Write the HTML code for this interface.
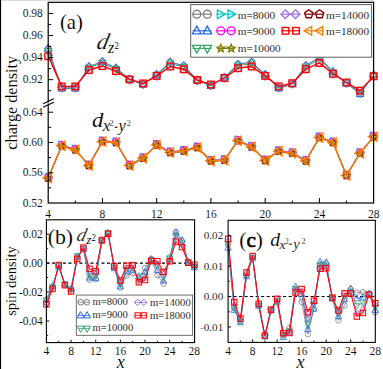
<!DOCTYPE html><html><head><meta charset="utf-8"><style>html,body{margin:0;padding:0;background:#fff;width:383px;height:369px;overflow:hidden;position:relative}</style></head><body><svg width="383" height="369" viewBox="0 0 383 369" style="position:absolute;left:0;top:0" font-family="'Liberation Serif', serif"><style>text{stroke:#fff;stroke-width:0.1px}</style>
<rect x="0" y="0" width="383" height="369" fill="#fff"/>
<rect x="0" y="0" width="1.1" height="369" fill="#000"/>
<rect x="2" y="0" width="372" height="1" fill="#dedede"/>
<polyline points="48.20,48.80 61.76,88.53 75.32,88.53 88.88,66.88 102.44,61.73 116.00,68.33 129.56,79.29 143.12,84.57 156.68,74.67 170.24,62.26 183.80,65.96 197.36,80.21 210.92,86.02 224.48,77.44 238.04,64.50 251.60,62.26 265.16,74.67 278.72,88.40 292.28,84.30 305.84,65.82 319.40,57.64 332.96,71.90 346.52,83.38 360.08,94.07 373.64,75.20" fill="none" stroke="#808080" stroke-width="0.8" stroke-linejoin="round"/>
<circle cx="48.20" cy="48.80" r="3.30" fill="none" stroke="#808080" stroke-width="0.9"/>
<circle cx="61.76" cy="88.53" r="3.30" fill="none" stroke="#808080" stroke-width="0.9"/>
<circle cx="75.32" cy="88.53" r="3.30" fill="none" stroke="#808080" stroke-width="0.9"/>
<circle cx="88.88" cy="66.88" r="3.30" fill="none" stroke="#808080" stroke-width="0.9"/>
<circle cx="102.44" cy="61.73" r="3.30" fill="none" stroke="#808080" stroke-width="0.9"/>
<circle cx="116.00" cy="68.33" r="3.30" fill="none" stroke="#808080" stroke-width="0.9"/>
<circle cx="129.56" cy="79.29" r="3.30" fill="none" stroke="#808080" stroke-width="0.9"/>
<circle cx="143.12" cy="84.57" r="3.30" fill="none" stroke="#808080" stroke-width="0.9"/>
<circle cx="156.68" cy="74.67" r="3.30" fill="none" stroke="#808080" stroke-width="0.9"/>
<circle cx="170.24" cy="62.26" r="3.30" fill="none" stroke="#808080" stroke-width="0.9"/>
<circle cx="183.80" cy="65.96" r="3.30" fill="none" stroke="#808080" stroke-width="0.9"/>
<circle cx="197.36" cy="80.21" r="3.30" fill="none" stroke="#808080" stroke-width="0.9"/>
<circle cx="210.92" cy="86.02" r="3.30" fill="none" stroke="#808080" stroke-width="0.9"/>
<circle cx="224.48" cy="77.44" r="3.30" fill="none" stroke="#808080" stroke-width="0.9"/>
<circle cx="238.04" cy="64.50" r="3.30" fill="none" stroke="#808080" stroke-width="0.9"/>
<circle cx="251.60" cy="62.26" r="3.30" fill="none" stroke="#808080" stroke-width="0.9"/>
<circle cx="265.16" cy="74.67" r="3.30" fill="none" stroke="#808080" stroke-width="0.9"/>
<circle cx="278.72" cy="88.40" r="3.30" fill="none" stroke="#808080" stroke-width="0.9"/>
<circle cx="292.28" cy="84.30" r="3.30" fill="none" stroke="#808080" stroke-width="0.9"/>
<circle cx="305.84" cy="65.82" r="3.30" fill="none" stroke="#808080" stroke-width="0.9"/>
<circle cx="319.40" cy="57.64" r="3.30" fill="none" stroke="#808080" stroke-width="0.9"/>
<circle cx="332.96" cy="71.90" r="3.30" fill="none" stroke="#808080" stroke-width="0.9"/>
<circle cx="346.52" cy="83.38" r="3.30" fill="none" stroke="#808080" stroke-width="0.9"/>
<circle cx="360.08" cy="94.07" r="3.30" fill="none" stroke="#808080" stroke-width="0.9"/>
<circle cx="373.64" cy="75.20" r="3.30" fill="none" stroke="#808080" stroke-width="0.9"/>
<polyline points="48.20,48.50 61.76,88.23 75.32,88.23 88.88,66.58 102.44,61.43 116.00,68.03 129.56,78.99 143.12,84.27 156.68,74.37 170.24,61.96 183.80,65.66 197.36,79.91 210.92,85.72 224.48,77.14 238.04,64.20 251.60,61.96 265.16,74.37 278.72,88.10 292.28,84.00 305.84,65.52 319.40,57.34 332.96,71.60 346.52,83.08 360.08,93.77 373.64,74.90" fill="none" stroke="#2a6ae8" stroke-width="0.8" stroke-linejoin="round"/>
<polygon points="48.20,44.24 44.32,51.27 52.09,51.27" fill="none" stroke="#2a6ae8" stroke-width="1.0" stroke-linejoin="miter"/>
<polygon points="61.76,83.97 57.88,91.00 65.65,91.00" fill="none" stroke="#2a6ae8" stroke-width="1.0" stroke-linejoin="miter"/>
<polygon points="75.32,83.97 71.44,91.00 79.21,91.00" fill="none" stroke="#2a6ae8" stroke-width="1.0" stroke-linejoin="miter"/>
<polygon points="88.88,62.32 84.99,69.36 92.77,69.36" fill="none" stroke="#2a6ae8" stroke-width="1.0" stroke-linejoin="miter"/>
<polygon points="102.44,57.18 98.55,64.21 106.33,64.21" fill="none" stroke="#2a6ae8" stroke-width="1.0" stroke-linejoin="miter"/>
<polygon points="116.00,63.78 112.11,70.81 119.89,70.81" fill="none" stroke="#2a6ae8" stroke-width="1.0" stroke-linejoin="miter"/>
<polygon points="129.56,74.73 125.67,81.76 133.44,81.76" fill="none" stroke="#2a6ae8" stroke-width="1.0" stroke-linejoin="miter"/>
<polygon points="143.12,80.01 139.24,87.04 147.00,87.04" fill="none" stroke="#2a6ae8" stroke-width="1.0" stroke-linejoin="miter"/>
<polygon points="156.68,70.11 152.80,77.14 160.56,77.14" fill="none" stroke="#2a6ae8" stroke-width="1.0" stroke-linejoin="miter"/>
<polygon points="170.24,57.70 166.36,64.73 174.12,64.73" fill="none" stroke="#2a6ae8" stroke-width="1.0" stroke-linejoin="miter"/>
<polygon points="183.80,61.40 179.92,68.43 187.69,68.43" fill="none" stroke="#2a6ae8" stroke-width="1.0" stroke-linejoin="miter"/>
<polygon points="197.36,75.66 193.48,82.69 201.25,82.69" fill="none" stroke="#2a6ae8" stroke-width="1.0" stroke-linejoin="miter"/>
<polygon points="210.92,81.47 207.04,88.50 214.81,88.50" fill="none" stroke="#2a6ae8" stroke-width="1.0" stroke-linejoin="miter"/>
<polygon points="224.48,72.89 220.60,79.92 228.37,79.92" fill="none" stroke="#2a6ae8" stroke-width="1.0" stroke-linejoin="miter"/>
<polygon points="238.04,59.95 234.16,66.98 241.93,66.98" fill="none" stroke="#2a6ae8" stroke-width="1.0" stroke-linejoin="miter"/>
<polygon points="251.60,57.70 247.72,64.73 255.49,64.73" fill="none" stroke="#2a6ae8" stroke-width="1.0" stroke-linejoin="miter"/>
<polygon points="265.16,70.11 261.28,77.14 269.05,77.14" fill="none" stroke="#2a6ae8" stroke-width="1.0" stroke-linejoin="miter"/>
<polygon points="278.72,83.84 274.84,90.87 282.61,90.87" fill="none" stroke="#2a6ae8" stroke-width="1.0" stroke-linejoin="miter"/>
<polygon points="292.28,79.75 288.40,86.78 296.17,86.78" fill="none" stroke="#2a6ae8" stroke-width="1.0" stroke-linejoin="miter"/>
<polygon points="305.84,61.27 301.95,68.30 309.72,68.30" fill="none" stroke="#2a6ae8" stroke-width="1.0" stroke-linejoin="miter"/>
<polygon points="319.40,53.09 315.51,60.12 323.28,60.12" fill="none" stroke="#2a6ae8" stroke-width="1.0" stroke-linejoin="miter"/>
<polygon points="332.96,67.34 329.07,74.37 336.84,74.37" fill="none" stroke="#2a6ae8" stroke-width="1.0" stroke-linejoin="miter"/>
<polygon points="346.52,78.83 342.63,85.86 350.40,85.86" fill="none" stroke="#2a6ae8" stroke-width="1.0" stroke-linejoin="miter"/>
<polygon points="360.08,89.52 356.19,96.55 363.96,96.55" fill="none" stroke="#2a6ae8" stroke-width="1.0" stroke-linejoin="miter"/>
<polygon points="373.64,70.64 369.75,77.67 377.52,77.67" fill="none" stroke="#2a6ae8" stroke-width="1.0" stroke-linejoin="miter"/>
<polyline points="48.20,51.17 61.76,87.89 75.32,87.89 88.88,67.88 102.44,63.12 116.00,69.22 129.56,79.35 143.12,84.23 156.68,75.08 170.24,63.61 183.80,67.03 197.36,80.20 210.92,85.57 224.48,77.64 238.04,65.68 251.60,63.61 265.16,75.08 278.72,87.77 292.28,83.98 305.84,66.90 319.40,59.34 332.96,72.52 346.52,83.13 360.08,93.01 373.64,75.57" fill="none" stroke="#36a86a" stroke-width="1.0" stroke-linejoin="round"/>
<polygon points="48.20,55.31 44.42,48.47 51.98,48.47" fill="none" stroke="#36a86a" stroke-width="1.0" stroke-linejoin="miter"/>
<polygon points="61.76,92.03 57.98,85.19 65.54,85.19" fill="none" stroke="#36a86a" stroke-width="1.0" stroke-linejoin="miter"/>
<polygon points="75.32,92.03 71.54,85.19 79.10,85.19" fill="none" stroke="#36a86a" stroke-width="1.0" stroke-linejoin="miter"/>
<polygon points="88.88,72.02 85.10,65.18 92.66,65.18" fill="none" stroke="#36a86a" stroke-width="1.0" stroke-linejoin="miter"/>
<polygon points="102.44,67.26 98.66,60.42 106.22,60.42" fill="none" stroke="#36a86a" stroke-width="1.0" stroke-linejoin="miter"/>
<polygon points="116.00,73.36 112.22,66.52 119.78,66.52" fill="none" stroke="#36a86a" stroke-width="1.0" stroke-linejoin="miter"/>
<polygon points="129.56,83.49 125.78,76.65 133.34,76.65" fill="none" stroke="#36a86a" stroke-width="1.0" stroke-linejoin="miter"/>
<polygon points="143.12,88.37 139.34,81.53 146.90,81.53" fill="none" stroke="#36a86a" stroke-width="1.0" stroke-linejoin="miter"/>
<polygon points="156.68,79.22 152.90,72.38 160.46,72.38" fill="none" stroke="#36a86a" stroke-width="1.0" stroke-linejoin="miter"/>
<polygon points="170.24,67.75 166.46,60.91 174.02,60.91" fill="none" stroke="#36a86a" stroke-width="1.0" stroke-linejoin="miter"/>
<polygon points="183.80,71.17 180.02,64.33 187.58,64.33" fill="none" stroke="#36a86a" stroke-width="1.0" stroke-linejoin="miter"/>
<polygon points="197.36,84.34 193.58,77.50 201.14,77.50" fill="none" stroke="#36a86a" stroke-width="1.0" stroke-linejoin="miter"/>
<polygon points="210.92,89.71 207.14,82.87 214.70,82.87" fill="none" stroke="#36a86a" stroke-width="1.0" stroke-linejoin="miter"/>
<polygon points="224.48,81.78 220.70,74.94 228.26,74.94" fill="none" stroke="#36a86a" stroke-width="1.0" stroke-linejoin="miter"/>
<polygon points="238.04,69.82 234.26,62.98 241.82,62.98" fill="none" stroke="#36a86a" stroke-width="1.0" stroke-linejoin="miter"/>
<polygon points="251.60,67.75 247.82,60.91 255.38,60.91" fill="none" stroke="#36a86a" stroke-width="1.0" stroke-linejoin="miter"/>
<polygon points="265.16,79.22 261.38,72.38 268.94,72.38" fill="none" stroke="#36a86a" stroke-width="1.0" stroke-linejoin="miter"/>
<polygon points="278.72,91.91 274.94,85.07 282.50,85.07" fill="none" stroke="#36a86a" stroke-width="1.0" stroke-linejoin="miter"/>
<polygon points="292.28,88.12 288.50,81.28 296.06,81.28" fill="none" stroke="#36a86a" stroke-width="1.0" stroke-linejoin="miter"/>
<polygon points="305.84,71.04 302.06,64.20 309.62,64.20" fill="none" stroke="#36a86a" stroke-width="1.0" stroke-linejoin="miter"/>
<polygon points="319.40,63.48 315.62,56.64 323.18,56.64" fill="none" stroke="#36a86a" stroke-width="1.0" stroke-linejoin="miter"/>
<polygon points="332.96,76.66 329.18,69.82 336.74,69.82" fill="none" stroke="#36a86a" stroke-width="1.0" stroke-linejoin="miter"/>
<polygon points="346.52,87.27 342.74,80.43 350.30,80.43" fill="none" stroke="#36a86a" stroke-width="1.0" stroke-linejoin="miter"/>
<polygon points="360.08,97.15 356.30,90.31 363.86,90.31" fill="none" stroke="#36a86a" stroke-width="1.0" stroke-linejoin="miter"/>
<polygon points="373.64,79.71 369.86,72.87 377.42,72.87" fill="none" stroke="#36a86a" stroke-width="1.0" stroke-linejoin="miter"/>
<polyline points="48.20,55.42 61.76,87.32 75.32,87.32 88.88,69.94 102.44,65.81 116.00,71.11 129.56,79.90 143.12,84.14 156.68,76.19 170.24,66.23 183.80,69.20 197.36,80.65 210.92,85.31 224.48,78.42 238.04,68.03 251.60,66.23 265.16,76.19 278.72,87.22 292.28,83.93 305.84,69.09 319.40,62.52 332.96,73.97 346.52,83.19 360.08,91.78 373.64,76.62" fill="none" stroke="#a070e8" stroke-width="0.8" stroke-linejoin="round"/>
<polygon points="48.20,51.05 52.57,55.42 48.20,59.79 43.83,55.42" fill="none" stroke="#a070e8" stroke-width="1.0" stroke-linejoin="miter"/>
<polygon points="61.76,82.95 66.13,87.32 61.76,91.69 57.39,87.32" fill="none" stroke="#a070e8" stroke-width="1.0" stroke-linejoin="miter"/>
<polygon points="75.32,82.95 79.69,87.32 75.32,91.69 70.95,87.32" fill="none" stroke="#a070e8" stroke-width="1.0" stroke-linejoin="miter"/>
<polygon points="88.88,65.57 93.25,69.94 88.88,74.31 84.51,69.94" fill="none" stroke="#a070e8" stroke-width="1.0" stroke-linejoin="miter"/>
<polygon points="102.44,61.44 106.81,65.81 102.44,70.18 98.07,65.81" fill="none" stroke="#a070e8" stroke-width="1.0" stroke-linejoin="miter"/>
<polygon points="116.00,66.74 120.37,71.11 116.00,75.48 111.63,71.11" fill="none" stroke="#a070e8" stroke-width="1.0" stroke-linejoin="miter"/>
<polygon points="129.56,75.53 133.93,79.90 129.56,84.27 125.19,79.90" fill="none" stroke="#a070e8" stroke-width="1.0" stroke-linejoin="miter"/>
<polygon points="143.12,79.77 147.49,84.14 143.12,88.51 138.75,84.14" fill="none" stroke="#a070e8" stroke-width="1.0" stroke-linejoin="miter"/>
<polygon points="156.68,71.82 161.05,76.19 156.68,80.56 152.31,76.19" fill="none" stroke="#a070e8" stroke-width="1.0" stroke-linejoin="miter"/>
<polygon points="170.24,61.86 174.61,66.23 170.24,70.60 165.87,66.23" fill="none" stroke="#a070e8" stroke-width="1.0" stroke-linejoin="miter"/>
<polygon points="183.80,64.83 188.17,69.20 183.80,73.57 179.43,69.20" fill="none" stroke="#a070e8" stroke-width="1.0" stroke-linejoin="miter"/>
<polygon points="197.36,76.28 201.73,80.65 197.36,85.02 192.99,80.65" fill="none" stroke="#a070e8" stroke-width="1.0" stroke-linejoin="miter"/>
<polygon points="210.92,80.94 215.29,85.31 210.92,89.68 206.55,85.31" fill="none" stroke="#a070e8" stroke-width="1.0" stroke-linejoin="miter"/>
<polygon points="224.48,74.05 228.85,78.42 224.48,82.79 220.11,78.42" fill="none" stroke="#a070e8" stroke-width="1.0" stroke-linejoin="miter"/>
<polygon points="238.04,63.66 242.41,68.03 238.04,72.40 233.67,68.03" fill="none" stroke="#a070e8" stroke-width="1.0" stroke-linejoin="miter"/>
<polygon points="251.60,61.86 255.97,66.23 251.60,70.60 247.23,66.23" fill="none" stroke="#a070e8" stroke-width="1.0" stroke-linejoin="miter"/>
<polygon points="265.16,71.82 269.53,76.19 265.16,80.56 260.79,76.19" fill="none" stroke="#a070e8" stroke-width="1.0" stroke-linejoin="miter"/>
<polygon points="278.72,82.85 283.09,87.22 278.72,91.59 274.35,87.22" fill="none" stroke="#a070e8" stroke-width="1.0" stroke-linejoin="miter"/>
<polygon points="292.28,79.56 296.65,83.93 292.28,88.30 287.91,83.93" fill="none" stroke="#a070e8" stroke-width="1.0" stroke-linejoin="miter"/>
<polygon points="305.84,64.72 310.21,69.09 305.84,73.46 301.47,69.09" fill="none" stroke="#a070e8" stroke-width="1.0" stroke-linejoin="miter"/>
<polygon points="319.40,58.15 323.77,62.52 319.40,66.89 315.03,62.52" fill="none" stroke="#a070e8" stroke-width="1.0" stroke-linejoin="miter"/>
<polygon points="332.96,69.60 337.33,73.97 332.96,78.34 328.59,73.97" fill="none" stroke="#a070e8" stroke-width="1.0" stroke-linejoin="miter"/>
<polygon points="346.52,78.82 350.89,83.19 346.52,87.56 342.15,83.19" fill="none" stroke="#a070e8" stroke-width="1.0" stroke-linejoin="miter"/>
<polygon points="360.08,87.41 364.45,91.78 360.08,96.15 355.71,91.78" fill="none" stroke="#a070e8" stroke-width="1.0" stroke-linejoin="miter"/>
<polygon points="373.64,72.25 378.01,76.62 373.64,80.99 369.27,76.62" fill="none" stroke="#a070e8" stroke-width="1.0" stroke-linejoin="miter"/>
<polyline points="48.20,56.30 61.76,86.40 75.32,86.40 88.88,70.00 102.44,66.10 116.00,71.10 129.56,79.40 143.12,83.40 156.68,75.90 170.24,66.50 183.80,69.30 197.36,80.10 210.92,84.50 224.48,78.00 238.04,68.20 251.60,66.50 265.16,75.90 278.72,86.30 292.28,83.20 305.84,69.20 319.40,63.00 332.96,73.80 346.52,82.50 360.08,90.60 373.64,76.30" fill="none" stroke="#ff0000" stroke-width="1.35" stroke-linejoin="round"/>
<rect x="44.90" y="53.00" width="6.60" height="6.60" fill="none" stroke="#ff0000" stroke-width="1.3"/>
<rect x="58.46" y="83.10" width="6.60" height="6.60" fill="none" stroke="#ff0000" stroke-width="1.3"/>
<rect x="72.02" y="83.10" width="6.60" height="6.60" fill="none" stroke="#ff0000" stroke-width="1.3"/>
<rect x="85.58" y="66.70" width="6.60" height="6.60" fill="none" stroke="#ff0000" stroke-width="1.3"/>
<rect x="99.14" y="62.80" width="6.60" height="6.60" fill="none" stroke="#ff0000" stroke-width="1.3"/>
<rect x="112.70" y="67.80" width="6.60" height="6.60" fill="none" stroke="#ff0000" stroke-width="1.3"/>
<rect x="126.26" y="76.10" width="6.60" height="6.60" fill="none" stroke="#ff0000" stroke-width="1.3"/>
<rect x="139.82" y="80.10" width="6.60" height="6.60" fill="none" stroke="#ff0000" stroke-width="1.3"/>
<rect x="153.38" y="72.60" width="6.60" height="6.60" fill="none" stroke="#ff0000" stroke-width="1.3"/>
<rect x="166.94" y="63.20" width="6.60" height="6.60" fill="none" stroke="#ff0000" stroke-width="1.3"/>
<rect x="180.50" y="66.00" width="6.60" height="6.60" fill="none" stroke="#ff0000" stroke-width="1.3"/>
<rect x="194.06" y="76.80" width="6.60" height="6.60" fill="none" stroke="#ff0000" stroke-width="1.3"/>
<rect x="207.62" y="81.20" width="6.60" height="6.60" fill="none" stroke="#ff0000" stroke-width="1.3"/>
<rect x="221.18" y="74.70" width="6.60" height="6.60" fill="none" stroke="#ff0000" stroke-width="1.3"/>
<rect x="234.74" y="64.90" width="6.60" height="6.60" fill="none" stroke="#ff0000" stroke-width="1.3"/>
<rect x="248.30" y="63.20" width="6.60" height="6.60" fill="none" stroke="#ff0000" stroke-width="1.3"/>
<rect x="261.86" y="72.60" width="6.60" height="6.60" fill="none" stroke="#ff0000" stroke-width="1.3"/>
<rect x="275.42" y="83.00" width="6.60" height="6.60" fill="none" stroke="#ff0000" stroke-width="1.3"/>
<rect x="288.98" y="79.90" width="6.60" height="6.60" fill="none" stroke="#ff0000" stroke-width="1.3"/>
<rect x="302.54" y="65.90" width="6.60" height="6.60" fill="none" stroke="#ff0000" stroke-width="1.3"/>
<rect x="316.10" y="59.70" width="6.60" height="6.60" fill="none" stroke="#ff0000" stroke-width="1.3"/>
<rect x="329.66" y="70.50" width="6.60" height="6.60" fill="none" stroke="#ff0000" stroke-width="1.3"/>
<rect x="343.22" y="79.20" width="6.60" height="6.60" fill="none" stroke="#ff0000" stroke-width="1.3"/>
<rect x="356.78" y="87.30" width="6.60" height="6.60" fill="none" stroke="#ff0000" stroke-width="1.3"/>
<rect x="370.34" y="73.00" width="6.60" height="6.60" fill="none" stroke="#ff0000" stroke-width="1.3"/>
<polyline points="48.20,177.20 61.76,144.90 75.32,149.00 88.88,164.70 102.44,140.70 116.00,141.70 129.56,164.70 143.12,157.40 156.68,144.20 170.24,151.70 183.80,150.20 197.36,146.70 210.92,160.10 224.48,159.30 238.04,139.90 251.60,146.10 265.16,159.70 278.72,150.30 292.28,152.40 305.84,160.10 319.40,136.70 332.96,141.70 346.52,174.70 360.08,152.40 373.64,136.00" fill="none" stroke="#00c8c8" stroke-width="0.8" stroke-linejoin="round"/>
<polygon points="52.80,177.20 45.20,173.00 45.20,181.40" fill="none" stroke="#00c8c8" stroke-width="1.0" stroke-linejoin="miter"/>
<polygon points="66.36,144.90 58.76,140.70 58.76,149.10" fill="none" stroke="#00c8c8" stroke-width="1.0" stroke-linejoin="miter"/>
<polygon points="79.92,149.00 72.32,144.80 72.32,153.20" fill="none" stroke="#00c8c8" stroke-width="1.0" stroke-linejoin="miter"/>
<polygon points="93.48,164.70 85.88,160.50 85.88,168.90" fill="none" stroke="#00c8c8" stroke-width="1.0" stroke-linejoin="miter"/>
<polygon points="107.04,140.70 99.44,136.50 99.44,144.90" fill="none" stroke="#00c8c8" stroke-width="1.0" stroke-linejoin="miter"/>
<polygon points="120.60,141.70 113.00,137.50 113.00,145.90" fill="none" stroke="#00c8c8" stroke-width="1.0" stroke-linejoin="miter"/>
<polygon points="134.16,164.70 126.56,160.50 126.56,168.90" fill="none" stroke="#00c8c8" stroke-width="1.0" stroke-linejoin="miter"/>
<polygon points="147.72,157.40 140.12,153.20 140.12,161.60" fill="none" stroke="#00c8c8" stroke-width="1.0" stroke-linejoin="miter"/>
<polygon points="161.28,144.20 153.68,140.00 153.68,148.40" fill="none" stroke="#00c8c8" stroke-width="1.0" stroke-linejoin="miter"/>
<polygon points="174.84,151.70 167.24,147.50 167.24,155.90" fill="none" stroke="#00c8c8" stroke-width="1.0" stroke-linejoin="miter"/>
<polygon points="188.40,150.20 180.80,146.00 180.80,154.40" fill="none" stroke="#00c8c8" stroke-width="1.0" stroke-linejoin="miter"/>
<polygon points="201.96,146.70 194.36,142.50 194.36,150.90" fill="none" stroke="#00c8c8" stroke-width="1.0" stroke-linejoin="miter"/>
<polygon points="215.52,160.10 207.92,155.90 207.92,164.30" fill="none" stroke="#00c8c8" stroke-width="1.0" stroke-linejoin="miter"/>
<polygon points="229.08,159.30 221.48,155.10 221.48,163.50" fill="none" stroke="#00c8c8" stroke-width="1.0" stroke-linejoin="miter"/>
<polygon points="242.64,139.90 235.04,135.70 235.04,144.10" fill="none" stroke="#00c8c8" stroke-width="1.0" stroke-linejoin="miter"/>
<polygon points="256.20,146.10 248.60,141.90 248.60,150.30" fill="none" stroke="#00c8c8" stroke-width="1.0" stroke-linejoin="miter"/>
<polygon points="269.76,159.70 262.16,155.50 262.16,163.90" fill="none" stroke="#00c8c8" stroke-width="1.0" stroke-linejoin="miter"/>
<polygon points="283.32,150.30 275.72,146.10 275.72,154.50" fill="none" stroke="#00c8c8" stroke-width="1.0" stroke-linejoin="miter"/>
<polygon points="296.88,152.40 289.28,148.20 289.28,156.60" fill="none" stroke="#00c8c8" stroke-width="1.0" stroke-linejoin="miter"/>
<polygon points="310.44,160.10 302.84,155.90 302.84,164.30" fill="none" stroke="#00c8c8" stroke-width="1.0" stroke-linejoin="miter"/>
<polygon points="324.00,136.70 316.40,132.50 316.40,140.90" fill="none" stroke="#00c8c8" stroke-width="1.0" stroke-linejoin="miter"/>
<polygon points="337.56,141.70 329.96,137.50 329.96,145.90" fill="none" stroke="#00c8c8" stroke-width="1.0" stroke-linejoin="miter"/>
<polygon points="351.12,174.70 343.52,170.50 343.52,178.90" fill="none" stroke="#00c8c8" stroke-width="1.0" stroke-linejoin="miter"/>
<polygon points="364.68,152.40 357.08,148.20 357.08,156.60" fill="none" stroke="#00c8c8" stroke-width="1.0" stroke-linejoin="miter"/>
<polygon points="378.24,136.00 370.64,131.80 370.64,140.20" fill="none" stroke="#00c8c8" stroke-width="1.0" stroke-linejoin="miter"/>
<polyline points="48.20,177.40 61.76,145.10 75.32,149.20 88.88,164.90 102.44,140.90 116.00,141.90 129.56,164.90 143.12,157.60 156.68,144.40 170.24,151.90 183.80,150.40 197.36,146.90 210.92,160.30 224.48,159.50 238.04,140.10 251.60,146.30 265.16,159.90 278.72,150.50 292.28,152.60 305.84,160.30 319.40,136.90 332.96,141.90 346.52,174.90 360.08,152.60 373.64,136.20" fill="none" stroke="#ff00ff" stroke-width="0.8" stroke-linejoin="round"/>
<circle cx="48.20" cy="177.40" r="3.80" fill="none" stroke="#ff00ff" stroke-width="1.1"/>
<circle cx="61.76" cy="145.10" r="3.80" fill="none" stroke="#ff00ff" stroke-width="1.1"/>
<circle cx="75.32" cy="149.20" r="3.80" fill="none" stroke="#ff00ff" stroke-width="1.1"/>
<circle cx="88.88" cy="164.90" r="3.80" fill="none" stroke="#ff00ff" stroke-width="1.1"/>
<circle cx="102.44" cy="140.90" r="3.80" fill="none" stroke="#ff00ff" stroke-width="1.1"/>
<circle cx="116.00" cy="141.90" r="3.80" fill="none" stroke="#ff00ff" stroke-width="1.1"/>
<circle cx="129.56" cy="164.90" r="3.80" fill="none" stroke="#ff00ff" stroke-width="1.1"/>
<circle cx="143.12" cy="157.60" r="3.80" fill="none" stroke="#ff00ff" stroke-width="1.1"/>
<circle cx="156.68" cy="144.40" r="3.80" fill="none" stroke="#ff00ff" stroke-width="1.1"/>
<circle cx="170.24" cy="151.90" r="3.80" fill="none" stroke="#ff00ff" stroke-width="1.1"/>
<circle cx="183.80" cy="150.40" r="3.80" fill="none" stroke="#ff00ff" stroke-width="1.1"/>
<circle cx="197.36" cy="146.90" r="3.80" fill="none" stroke="#ff00ff" stroke-width="1.1"/>
<circle cx="210.92" cy="160.30" r="3.80" fill="none" stroke="#ff00ff" stroke-width="1.1"/>
<circle cx="224.48" cy="159.50" r="3.80" fill="none" stroke="#ff00ff" stroke-width="1.1"/>
<circle cx="238.04" cy="140.10" r="3.80" fill="none" stroke="#ff00ff" stroke-width="1.1"/>
<circle cx="251.60" cy="146.30" r="3.80" fill="none" stroke="#ff00ff" stroke-width="1.1"/>
<circle cx="265.16" cy="159.90" r="3.80" fill="none" stroke="#ff00ff" stroke-width="1.1"/>
<circle cx="278.72" cy="150.50" r="3.80" fill="none" stroke="#ff00ff" stroke-width="1.1"/>
<circle cx="292.28" cy="152.60" r="3.80" fill="none" stroke="#ff00ff" stroke-width="1.1"/>
<circle cx="305.84" cy="160.30" r="3.80" fill="none" stroke="#ff00ff" stroke-width="1.1"/>
<circle cx="319.40" cy="136.90" r="3.80" fill="none" stroke="#ff00ff" stroke-width="1.1"/>
<circle cx="332.96" cy="141.90" r="3.80" fill="none" stroke="#ff00ff" stroke-width="1.1"/>
<circle cx="346.52" cy="174.90" r="3.80" fill="none" stroke="#ff00ff" stroke-width="1.1"/>
<circle cx="360.08" cy="152.60" r="3.80" fill="none" stroke="#ff00ff" stroke-width="1.1"/>
<circle cx="373.64" cy="136.20" r="3.80" fill="none" stroke="#ff00ff" stroke-width="1.1"/>
<polyline points="48.20,178.20 61.76,145.90 75.32,150.00 88.88,165.70 102.44,141.70 116.00,142.70 129.56,165.70 143.12,158.40 156.68,145.20 170.24,152.70 183.80,151.20 197.36,147.70 210.92,161.10 224.48,160.30 238.04,140.90 251.60,147.10 265.16,160.70 278.72,151.30 292.28,153.40 305.84,161.10 319.40,137.70 332.96,142.70 346.52,175.70 360.08,153.40 373.64,137.00" fill="none" stroke="#808000" stroke-width="0.8" stroke-linejoin="round"/>
<polygon points="48.20,174.75 49.08,176.99 51.48,177.13 49.63,178.66 50.23,180.99 48.20,179.70 46.17,180.99 46.77,178.66 44.92,177.13 47.32,176.99" fill="none" stroke="#808000" stroke-width="1.2" stroke-linejoin="miter"/>
<polygon points="61.76,142.45 62.64,144.69 65.04,144.83 63.19,146.36 63.79,148.69 61.76,147.40 59.73,148.69 60.33,146.36 58.48,144.83 60.88,144.69" fill="none" stroke="#808000" stroke-width="1.2" stroke-linejoin="miter"/>
<polygon points="75.32,146.55 76.20,148.79 78.60,148.93 76.75,150.46 77.35,152.79 75.32,151.50 73.29,152.79 73.89,150.46 72.04,148.93 74.44,148.79" fill="none" stroke="#808000" stroke-width="1.2" stroke-linejoin="miter"/>
<polygon points="88.88,162.25 89.76,164.49 92.16,164.63 90.31,166.16 90.91,168.49 88.88,167.20 86.85,168.49 87.45,166.16 85.60,164.63 88.00,164.49" fill="none" stroke="#808000" stroke-width="1.2" stroke-linejoin="miter"/>
<polygon points="102.44,138.25 103.32,140.49 105.72,140.63 103.87,142.16 104.47,144.49 102.44,143.20 100.41,144.49 101.01,142.16 99.16,140.63 101.56,140.49" fill="none" stroke="#808000" stroke-width="1.2" stroke-linejoin="miter"/>
<polygon points="116.00,139.25 116.88,141.49 119.28,141.63 117.43,143.16 118.03,145.49 116.00,144.20 113.97,145.49 114.57,143.16 112.72,141.63 115.12,141.49" fill="none" stroke="#808000" stroke-width="1.2" stroke-linejoin="miter"/>
<polygon points="129.56,162.25 130.44,164.49 132.84,164.63 130.99,166.16 131.59,168.49 129.56,167.20 127.53,168.49 128.13,166.16 126.28,164.63 128.68,164.49" fill="none" stroke="#808000" stroke-width="1.2" stroke-linejoin="miter"/>
<polygon points="143.12,154.95 144.00,157.19 146.40,157.33 144.55,158.86 145.15,161.19 143.12,159.90 141.09,161.19 141.69,158.86 139.84,157.33 142.24,157.19" fill="none" stroke="#808000" stroke-width="1.2" stroke-linejoin="miter"/>
<polygon points="156.68,141.75 157.56,143.99 159.96,144.13 158.11,145.66 158.71,147.99 156.68,146.70 154.65,147.99 155.25,145.66 153.40,144.13 155.80,143.99" fill="none" stroke="#808000" stroke-width="1.2" stroke-linejoin="miter"/>
<polygon points="170.24,149.25 171.12,151.49 173.52,151.63 171.67,153.16 172.27,155.49 170.24,154.20 168.21,155.49 168.81,153.16 166.96,151.63 169.36,151.49" fill="none" stroke="#808000" stroke-width="1.2" stroke-linejoin="miter"/>
<polygon points="183.80,147.75 184.68,149.99 187.08,150.13 185.23,151.66 185.83,153.99 183.80,152.70 181.77,153.99 182.37,151.66 180.52,150.13 182.92,149.99" fill="none" stroke="#808000" stroke-width="1.2" stroke-linejoin="miter"/>
<polygon points="197.36,144.25 198.24,146.49 200.64,146.63 198.79,148.16 199.39,150.49 197.36,149.20 195.33,150.49 195.93,148.16 194.08,146.63 196.48,146.49" fill="none" stroke="#808000" stroke-width="1.2" stroke-linejoin="miter"/>
<polygon points="210.92,157.65 211.80,159.89 214.20,160.03 212.35,161.56 212.95,163.89 210.92,162.60 208.89,163.89 209.49,161.56 207.64,160.03 210.04,159.89" fill="none" stroke="#808000" stroke-width="1.2" stroke-linejoin="miter"/>
<polygon points="224.48,156.85 225.36,159.09 227.76,159.23 225.91,160.76 226.51,163.09 224.48,161.80 222.45,163.09 223.05,160.76 221.20,159.23 223.60,159.09" fill="none" stroke="#808000" stroke-width="1.2" stroke-linejoin="miter"/>
<polygon points="238.04,137.45 238.92,139.69 241.32,139.83 239.47,141.36 240.07,143.69 238.04,142.40 236.01,143.69 236.61,141.36 234.76,139.83 237.16,139.69" fill="none" stroke="#808000" stroke-width="1.2" stroke-linejoin="miter"/>
<polygon points="251.60,143.65 252.48,145.89 254.88,146.03 253.03,147.56 253.63,149.89 251.60,148.60 249.57,149.89 250.17,147.56 248.32,146.03 250.72,145.89" fill="none" stroke="#808000" stroke-width="1.2" stroke-linejoin="miter"/>
<polygon points="265.16,157.25 266.04,159.49 268.44,159.63 266.59,161.16 267.19,163.49 265.16,162.20 263.13,163.49 263.73,161.16 261.88,159.63 264.28,159.49" fill="none" stroke="#808000" stroke-width="1.2" stroke-linejoin="miter"/>
<polygon points="278.72,147.85 279.60,150.09 282.00,150.23 280.15,151.76 280.75,154.09 278.72,152.80 276.69,154.09 277.29,151.76 275.44,150.23 277.84,150.09" fill="none" stroke="#808000" stroke-width="1.2" stroke-linejoin="miter"/>
<polygon points="292.28,149.95 293.16,152.19 295.56,152.33 293.71,153.86 294.31,156.19 292.28,154.90 290.25,156.19 290.85,153.86 289.00,152.33 291.40,152.19" fill="none" stroke="#808000" stroke-width="1.2" stroke-linejoin="miter"/>
<polygon points="305.84,157.65 306.72,159.89 309.12,160.03 307.27,161.56 307.87,163.89 305.84,162.60 303.81,163.89 304.41,161.56 302.56,160.03 304.96,159.89" fill="none" stroke="#808000" stroke-width="1.2" stroke-linejoin="miter"/>
<polygon points="319.40,134.25 320.28,136.49 322.68,136.63 320.83,138.16 321.43,140.49 319.40,139.20 317.37,140.49 317.97,138.16 316.12,136.63 318.52,136.49" fill="none" stroke="#808000" stroke-width="1.2" stroke-linejoin="miter"/>
<polygon points="332.96,139.25 333.84,141.49 336.24,141.63 334.39,143.16 334.99,145.49 332.96,144.20 330.93,145.49 331.53,143.16 329.68,141.63 332.08,141.49" fill="none" stroke="#808000" stroke-width="1.2" stroke-linejoin="miter"/>
<polygon points="346.52,172.25 347.40,174.49 349.80,174.63 347.95,176.16 348.55,178.49 346.52,177.20 344.49,178.49 345.09,176.16 343.24,174.63 345.64,174.49" fill="none" stroke="#808000" stroke-width="1.2" stroke-linejoin="miter"/>
<polygon points="360.08,149.95 360.96,152.19 363.36,152.33 361.51,153.86 362.11,156.19 360.08,154.90 358.05,156.19 358.65,153.86 356.80,152.33 359.20,152.19" fill="none" stroke="#808000" stroke-width="1.2" stroke-linejoin="miter"/>
<polygon points="373.64,133.55 374.52,135.79 376.92,135.93 375.07,137.46 375.67,139.79 373.64,138.50 371.61,139.79 372.21,137.46 370.36,135.93 372.76,135.79" fill="none" stroke="#808000" stroke-width="1.2" stroke-linejoin="miter"/>
<polyline points="48.20,178.40 61.76,146.10 75.32,150.20 88.88,165.90 102.44,141.90 116.00,142.90 129.56,165.90 143.12,158.60 156.68,145.40 170.24,152.90 183.80,151.40 197.36,147.90 210.92,161.30 224.48,160.50 238.04,141.10 251.60,147.30 265.16,160.90 278.72,151.50 292.28,153.60 305.84,161.30 319.40,137.90 332.96,142.90 346.52,175.90 360.08,153.60 373.64,137.20" fill="none" stroke="#800000" stroke-width="0.8" stroke-linejoin="round"/>
<polygon points="48.20,175.04 51.40,177.36 50.17,181.12 46.23,181.12 45.00,177.36" fill="none" stroke="#800000" stroke-width="1.1" stroke-linejoin="miter"/>
<polygon points="61.76,142.74 64.96,145.06 63.73,148.82 59.79,148.82 58.56,145.06" fill="none" stroke="#800000" stroke-width="1.1" stroke-linejoin="miter"/>
<polygon points="75.32,146.84 78.52,149.16 77.29,152.92 73.35,152.92 72.12,149.16" fill="none" stroke="#800000" stroke-width="1.1" stroke-linejoin="miter"/>
<polygon points="88.88,162.54 92.08,164.86 90.85,168.62 86.91,168.62 85.68,164.86" fill="none" stroke="#800000" stroke-width="1.1" stroke-linejoin="miter"/>
<polygon points="102.44,138.54 105.64,140.86 104.41,144.62 100.47,144.62 99.24,140.86" fill="none" stroke="#800000" stroke-width="1.1" stroke-linejoin="miter"/>
<polygon points="116.00,139.54 119.20,141.86 117.97,145.62 114.03,145.62 112.80,141.86" fill="none" stroke="#800000" stroke-width="1.1" stroke-linejoin="miter"/>
<polygon points="129.56,162.54 132.76,164.86 131.53,168.62 127.59,168.62 126.36,164.86" fill="none" stroke="#800000" stroke-width="1.1" stroke-linejoin="miter"/>
<polygon points="143.12,155.24 146.32,157.56 145.09,161.32 141.15,161.32 139.92,157.56" fill="none" stroke="#800000" stroke-width="1.1" stroke-linejoin="miter"/>
<polygon points="156.68,142.04 159.88,144.36 158.65,148.12 154.71,148.12 153.48,144.36" fill="none" stroke="#800000" stroke-width="1.1" stroke-linejoin="miter"/>
<polygon points="170.24,149.54 173.44,151.86 172.21,155.62 168.27,155.62 167.04,151.86" fill="none" stroke="#800000" stroke-width="1.1" stroke-linejoin="miter"/>
<polygon points="183.80,148.04 187.00,150.36 185.77,154.12 181.83,154.12 180.60,150.36" fill="none" stroke="#800000" stroke-width="1.1" stroke-linejoin="miter"/>
<polygon points="197.36,144.54 200.56,146.86 199.33,150.62 195.39,150.62 194.16,146.86" fill="none" stroke="#800000" stroke-width="1.1" stroke-linejoin="miter"/>
<polygon points="210.92,157.94 214.12,160.26 212.89,164.02 208.95,164.02 207.72,160.26" fill="none" stroke="#800000" stroke-width="1.1" stroke-linejoin="miter"/>
<polygon points="224.48,157.14 227.68,159.46 226.45,163.22 222.51,163.22 221.28,159.46" fill="none" stroke="#800000" stroke-width="1.1" stroke-linejoin="miter"/>
<polygon points="238.04,137.74 241.24,140.06 240.01,143.82 236.07,143.82 234.84,140.06" fill="none" stroke="#800000" stroke-width="1.1" stroke-linejoin="miter"/>
<polygon points="251.60,143.94 254.80,146.26 253.57,150.02 249.63,150.02 248.40,146.26" fill="none" stroke="#800000" stroke-width="1.1" stroke-linejoin="miter"/>
<polygon points="265.16,157.54 268.36,159.86 267.13,163.62 263.19,163.62 261.96,159.86" fill="none" stroke="#800000" stroke-width="1.1" stroke-linejoin="miter"/>
<polygon points="278.72,148.14 281.92,150.46 280.69,154.22 276.75,154.22 275.52,150.46" fill="none" stroke="#800000" stroke-width="1.1" stroke-linejoin="miter"/>
<polygon points="292.28,150.24 295.48,152.56 294.25,156.32 290.31,156.32 289.08,152.56" fill="none" stroke="#800000" stroke-width="1.1" stroke-linejoin="miter"/>
<polygon points="305.84,157.94 309.04,160.26 307.81,164.02 303.87,164.02 302.64,160.26" fill="none" stroke="#800000" stroke-width="1.1" stroke-linejoin="miter"/>
<polygon points="319.40,134.54 322.60,136.86 321.37,140.62 317.43,140.62 316.20,136.86" fill="none" stroke="#800000" stroke-width="1.1" stroke-linejoin="miter"/>
<polygon points="332.96,139.54 336.16,141.86 334.93,145.62 330.99,145.62 329.76,141.86" fill="none" stroke="#800000" stroke-width="1.1" stroke-linejoin="miter"/>
<polygon points="346.52,172.54 349.72,174.86 348.49,178.62 344.55,178.62 343.32,174.86" fill="none" stroke="#800000" stroke-width="1.1" stroke-linejoin="miter"/>
<polygon points="360.08,150.24 363.28,152.56 362.05,156.32 358.11,156.32 356.88,152.56" fill="none" stroke="#800000" stroke-width="1.1" stroke-linejoin="miter"/>
<polygon points="373.64,133.84 376.84,136.16 375.61,139.92 371.67,139.92 370.44,136.16" fill="none" stroke="#800000" stroke-width="1.1" stroke-linejoin="miter"/>
<polyline points="48.20,178.00 61.76,145.70 75.32,149.80 88.88,165.50 102.44,141.50 116.00,142.50 129.56,165.50 143.12,158.20 156.68,145.00 170.24,152.50 183.80,151.00 197.36,147.50 210.92,160.90 224.48,160.10 238.04,140.70 251.60,146.90 265.16,160.50 278.72,151.10 292.28,153.20 305.84,160.90 319.40,137.50 332.96,142.50 346.52,175.50 360.08,153.20 373.64,136.80" fill="none" stroke="#ff8000" stroke-width="1.35" stroke-linejoin="round"/>
<polygon points="43.14,178.00 51.50,173.38 51.50,182.62" fill="none" stroke="#ff8000" stroke-width="1.4" stroke-linejoin="miter"/>
<polygon points="56.70,145.70 65.06,141.08 65.06,150.32" fill="none" stroke="#ff8000" stroke-width="1.4" stroke-linejoin="miter"/>
<polygon points="70.26,149.80 78.62,145.18 78.62,154.42" fill="none" stroke="#ff8000" stroke-width="1.4" stroke-linejoin="miter"/>
<polygon points="83.82,165.50 92.18,160.88 92.18,170.12" fill="none" stroke="#ff8000" stroke-width="1.4" stroke-linejoin="miter"/>
<polygon points="97.38,141.50 105.74,136.88 105.74,146.12" fill="none" stroke="#ff8000" stroke-width="1.4" stroke-linejoin="miter"/>
<polygon points="110.94,142.50 119.30,137.88 119.30,147.12" fill="none" stroke="#ff8000" stroke-width="1.4" stroke-linejoin="miter"/>
<polygon points="124.50,165.50 132.86,160.88 132.86,170.12" fill="none" stroke="#ff8000" stroke-width="1.4" stroke-linejoin="miter"/>
<polygon points="138.06,158.20 146.42,153.58 146.42,162.82" fill="none" stroke="#ff8000" stroke-width="1.4" stroke-linejoin="miter"/>
<polygon points="151.62,145.00 159.98,140.38 159.98,149.62" fill="none" stroke="#ff8000" stroke-width="1.4" stroke-linejoin="miter"/>
<polygon points="165.18,152.50 173.54,147.88 173.54,157.12" fill="none" stroke="#ff8000" stroke-width="1.4" stroke-linejoin="miter"/>
<polygon points="178.74,151.00 187.10,146.38 187.10,155.62" fill="none" stroke="#ff8000" stroke-width="1.4" stroke-linejoin="miter"/>
<polygon points="192.30,147.50 200.66,142.88 200.66,152.12" fill="none" stroke="#ff8000" stroke-width="1.4" stroke-linejoin="miter"/>
<polygon points="205.86,160.90 214.22,156.28 214.22,165.52" fill="none" stroke="#ff8000" stroke-width="1.4" stroke-linejoin="miter"/>
<polygon points="219.42,160.10 227.78,155.48 227.78,164.72" fill="none" stroke="#ff8000" stroke-width="1.4" stroke-linejoin="miter"/>
<polygon points="232.98,140.70 241.34,136.08 241.34,145.32" fill="none" stroke="#ff8000" stroke-width="1.4" stroke-linejoin="miter"/>
<polygon points="246.54,146.90 254.90,142.28 254.90,151.52" fill="none" stroke="#ff8000" stroke-width="1.4" stroke-linejoin="miter"/>
<polygon points="260.10,160.50 268.46,155.88 268.46,165.12" fill="none" stroke="#ff8000" stroke-width="1.4" stroke-linejoin="miter"/>
<polygon points="273.66,151.10 282.02,146.48 282.02,155.72" fill="none" stroke="#ff8000" stroke-width="1.4" stroke-linejoin="miter"/>
<polygon points="287.22,153.20 295.58,148.58 295.58,157.82" fill="none" stroke="#ff8000" stroke-width="1.4" stroke-linejoin="miter"/>
<polygon points="300.78,160.90 309.14,156.28 309.14,165.52" fill="none" stroke="#ff8000" stroke-width="1.4" stroke-linejoin="miter"/>
<polygon points="314.34,137.50 322.70,132.88 322.70,142.12" fill="none" stroke="#ff8000" stroke-width="1.4" stroke-linejoin="miter"/>
<polygon points="327.90,142.50 336.26,137.88 336.26,147.12" fill="none" stroke="#ff8000" stroke-width="1.4" stroke-linejoin="miter"/>
<polygon points="341.46,175.50 349.82,170.88 349.82,180.12" fill="none" stroke="#ff8000" stroke-width="1.4" stroke-linejoin="miter"/>
<polygon points="355.02,153.20 363.38,148.58 363.38,157.82" fill="none" stroke="#ff8000" stroke-width="1.4" stroke-linejoin="miter"/>
<polygon points="368.58,136.80 376.94,132.18 376.94,141.42" fill="none" stroke="#ff8000" stroke-width="1.4" stroke-linejoin="miter"/>
<rect x="48.2" y="2.3" width="325.40" height="200.70" fill="none" stroke="#000" stroke-width="1.2"/>
<line x1="48.2" y1="13.50" x2="53.2" y2="13.50" stroke="#000" stroke-width="1"/>
<line x1="48.2" y1="24.53" x2="51.2" y2="24.53" stroke="#000" stroke-width="1"/>
<line x1="48.2" y1="35.56" x2="53.2" y2="35.56" stroke="#000" stroke-width="1"/>
<line x1="48.2" y1="46.59" x2="51.2" y2="46.59" stroke="#000" stroke-width="1"/>
<line x1="48.2" y1="57.62" x2="53.2" y2="57.62" stroke="#000" stroke-width="1"/>
<line x1="48.2" y1="68.65" x2="51.2" y2="68.65" stroke="#000" stroke-width="1"/>
<line x1="48.2" y1="79.68" x2="53.2" y2="79.68" stroke="#000" stroke-width="1"/>
<line x1="48.2" y1="90.71" x2="51.2" y2="90.71" stroke="#000" stroke-width="1"/>
<line x1="48.2" y1="112.20" x2="53.2" y2="112.20" stroke="#000" stroke-width="1"/>
<line x1="48.2" y1="127.34" x2="51.2" y2="127.34" stroke="#000" stroke-width="1"/>
<line x1="48.2" y1="142.48" x2="53.2" y2="142.48" stroke="#000" stroke-width="1"/>
<line x1="48.2" y1="157.62" x2="51.2" y2="157.62" stroke="#000" stroke-width="1"/>
<line x1="48.2" y1="172.76" x2="53.2" y2="172.76" stroke="#000" stroke-width="1"/>
<line x1="48.2" y1="187.90" x2="51.2" y2="187.90" stroke="#000" stroke-width="1"/>
<line x1="75.32" y1="203.0" x2="75.32" y2="200.5" stroke="#000" stroke-width="1"/>
<line x1="102.44" y1="203.0" x2="102.44" y2="198.0" stroke="#000" stroke-width="1"/>
<line x1="129.56" y1="203.0" x2="129.56" y2="200.5" stroke="#000" stroke-width="1"/>
<line x1="156.68" y1="203.0" x2="156.68" y2="198.0" stroke="#000" stroke-width="1"/>
<line x1="183.80" y1="203.0" x2="183.80" y2="200.5" stroke="#000" stroke-width="1"/>
<line x1="210.92" y1="203.0" x2="210.92" y2="198.0" stroke="#000" stroke-width="1"/>
<line x1="238.04" y1="203.0" x2="238.04" y2="200.5" stroke="#000" stroke-width="1"/>
<line x1="265.16" y1="203.0" x2="265.16" y2="198.0" stroke="#000" stroke-width="1"/>
<line x1="292.28" y1="203.0" x2="292.28" y2="200.5" stroke="#000" stroke-width="1"/>
<line x1="319.40" y1="203.0" x2="319.40" y2="198.0" stroke="#000" stroke-width="1"/>
<line x1="346.52" y1="203.0" x2="346.52" y2="200.5" stroke="#000" stroke-width="1"/>
<polygon points="43.2,104.6 53.7,99.6 53.7,101.5 43.2,106.5" fill="#fff" fill-opacity="0.6"/>
<line x1="43.2" y1="103.8" x2="53.8" y2="98.8" stroke="#000" stroke-width="1.15"/>
<line x1="43.0" y1="107.3" x2="53.8" y2="102.3" stroke="#000" stroke-width="1.15"/>
<text x="42.76" y="17.18" font-size="11.50" text-anchor="end" >0.98</text>
<text x="42.76" y="39.24" font-size="11.50" text-anchor="end" >0.96</text>
<text x="42.76" y="61.30" font-size="11.50" text-anchor="end" >0.94</text>
<text x="42.76" y="83.36" font-size="11.50" text-anchor="end" >0.92</text>
<text x="42.76" y="115.88" font-size="11.50" text-anchor="end" >0.64</text>
<text x="42.76" y="146.16" font-size="11.50" text-anchor="end" >0.60</text>
<text x="42.76" y="176.44" font-size="11.50" text-anchor="end" >0.56</text>
<text x="42.76" y="206.72" font-size="11.50" text-anchor="end" >0.52</text>
<text x="48.20" y="217.59" font-size="11.50" text-anchor="middle" >4</text>
<text x="102.44" y="217.59" font-size="11.50" text-anchor="middle" >8</text>
<text x="156.68" y="217.59" font-size="11.50" text-anchor="middle" >12</text>
<text x="210.92" y="217.59" font-size="11.50" text-anchor="middle" >16</text>
<text x="265.16" y="217.59" font-size="11.50" text-anchor="middle" >20</text>
<text x="319.40" y="217.59" font-size="11.50" text-anchor="middle" >24</text>
<text x="373.64" y="217.59" font-size="11.50" text-anchor="middle" >28</text>
<text x="17.20" y="102.80" font-size="16.20" text-anchor="middle" transform="rotate(-90 17.2 102.8)">charge density</text>
<text x="59.90" y="29.30" font-size="20.70" text-anchor="start" >(a)</text>
<text x="0" y="0" font-size="23" font-style="italic" style="stroke-width:0.2px" transform="translate(95.8 49.2) skewX(-13)">d</text>
<text x="108.10" y="52.70" font-size="16.20" text-anchor="start" font-style="italic">z</text>
<text x="114.30" y="48.90" font-size="9.30" text-anchor="start" >2</text>
<text x="0" y="0" font-size="21.7" font-style="italic" transform="translate(92.0 127.3) scale(1.05 1)">d</text>
<text x="102.70" y="130.50" font-size="17.00" text-anchor="start" font-style="italic">x</text>
<text x="109.20" y="126.30" font-size="8.80" text-anchor="start" >2</text>
<rect x="114.8" y="126.7" width="2.6" height="1.1" fill="#000"/>
<text x="118.50" y="130.50" font-size="16.50" text-anchor="start" font-style="italic">y</text>
<text x="126.60" y="126.30" font-size="8.80" text-anchor="start" >2</text>
<rect x="190.7" y="4.6" width="180.9" height="52.6" fill="#fff" stroke="#606060" stroke-width="1"/>
<line x1="192.60" y1="14.20" x2="211.50" y2="14.20" stroke="#808080" stroke-width="1.2"/>
<circle cx="196.80" cy="14.20" r="3.90" fill="none" stroke="#808080" stroke-width="1.35"/>
<circle cx="207.30" cy="14.20" r="3.90" fill="none" stroke="#808080" stroke-width="1.35"/>
<line x1="192.60" y1="30.80" x2="211.50" y2="30.80" stroke="#2a6ae8" stroke-width="1.2"/>
<polygon points="196.80,26.09 192.50,33.88 201.11,33.88" fill="none" stroke="#2a6ae8" stroke-width="1.35" stroke-linejoin="miter"/>
<polygon points="207.30,26.09 203.00,33.88 211.61,33.88" fill="none" stroke="#2a6ae8" stroke-width="1.35" stroke-linejoin="miter"/>
<line x1="192.60" y1="48.40" x2="211.50" y2="48.40" stroke="#36a86a" stroke-width="1.2"/>
<polygon points="196.80,53.11 192.50,45.32 201.11,45.32" fill="none" stroke="#36a86a" stroke-width="1.35" stroke-linejoin="miter"/>
<polygon points="207.30,53.11 203.00,45.32 211.61,45.32" fill="none" stroke="#36a86a" stroke-width="1.35" stroke-linejoin="miter"/>
<line x1="216.30" y1="14.20" x2="235.20" y2="14.20" stroke="#00c8c8" stroke-width="1.2"/>
<polygon points="225.22,14.20 217.43,9.89 217.43,18.50" fill="none" stroke="#00c8c8" stroke-width="1.35" stroke-linejoin="miter"/>
<polygon points="235.72,14.20 227.93,9.89 227.93,18.50" fill="none" stroke="#00c8c8" stroke-width="1.35" stroke-linejoin="miter"/>
<line x1="216.60" y1="30.80" x2="235.40" y2="30.80" stroke="#ff00ff" stroke-width="1.2"/>
<circle cx="220.80" cy="30.80" r="3.90" fill="none" stroke="#ff00ff" stroke-width="1.35"/>
<circle cx="231.20" cy="30.80" r="3.90" fill="none" stroke="#ff00ff" stroke-width="1.35"/>
<line x1="216.80" y1="48.40" x2="235.20" y2="48.40" stroke="#808000" stroke-width="1.2"/>
<polygon points="220.80,44.38 221.83,46.98 224.63,47.16 222.46,48.94 223.17,51.66 220.80,50.15 218.43,51.66 219.14,48.94 216.97,47.16 219.77,46.98" fill="none" stroke="#808000" stroke-width="1.4" stroke-linejoin="miter"/>
<polygon points="231.20,44.38 232.23,46.98 235.03,47.16 232.86,48.94 233.57,51.66 231.20,50.15 228.83,51.66 229.54,48.94 227.37,47.16 230.17,46.98" fill="none" stroke="#808000" stroke-width="1.4" stroke-linejoin="miter"/>
<text x="237.70" y="19.30" font-size="11.20" text-anchor="start" >m=8000</text>
<text x="237.70" y="35.10" font-size="11.20" text-anchor="start" >m=9000</text>
<text x="237.70" y="51.90" font-size="11.20" text-anchor="start" >m=10000</text>
<line x1="281.10" y1="14.20" x2="299.70" y2="14.20" stroke="#a070e8" stroke-width="1.2"/>
<polygon points="285.30,9.83 289.67,14.20 285.30,18.57 280.93,14.20" fill="none" stroke="#a070e8" stroke-width="1.35" stroke-linejoin="miter"/>
<polygon points="295.50,9.83 299.87,14.20 295.50,18.57 291.13,14.20" fill="none" stroke="#a070e8" stroke-width="1.35" stroke-linejoin="miter"/>
<line x1="281.30" y1="30.80" x2="300.20" y2="30.80" stroke="#ff0000" stroke-width="1.2"/>
<rect x="282.20" y="27.50" width="6.60" height="6.60" fill="none" stroke="#ff0000" stroke-width="1.35"/>
<rect x="292.70" y="27.50" width="6.60" height="6.60" fill="none" stroke="#ff0000" stroke-width="1.35"/>
<line x1="304.60" y1="14.20" x2="323.80" y2="14.20" stroke="#800000" stroke-width="1.2"/>
<polygon points="308.80,9.79 312.99,12.84 311.39,17.77 306.21,17.77 304.61,12.84" fill="none" stroke="#800000" stroke-width="1.35" stroke-linejoin="miter"/>
<polygon points="319.60,9.79 323.79,12.84 322.19,17.77 317.01,17.77 315.41,12.84" fill="none" stroke="#800000" stroke-width="1.35" stroke-linejoin="miter"/>
<line x1="304.40" y1="30.80" x2="323.80" y2="30.80" stroke="#ff8000" stroke-width="1.2"/>
<polygon points="303.89,30.80 311.68,26.50 311.68,35.11" fill="none" stroke="#ff8000" stroke-width="1.35" stroke-linejoin="miter"/>
<polygon points="314.89,30.80 322.68,26.50 322.68,35.11" fill="none" stroke="#ff8000" stroke-width="1.35" stroke-linejoin="miter"/>
<text x="326.00" y="19.30" font-size="11.20" text-anchor="start" >m=14000</text>
<text x="326.00" y="35.10" font-size="11.20" text-anchor="start" >m=18000</text>
<line x1="46.4" y1="263.10" x2="194.6" y2="263.10" stroke="#000" stroke-width="1.1" stroke-dasharray="3.1 2.4"/>
<polyline points="46.40,302.30 52.56,287.00 58.73,266.00 64.89,284.20 71.06,289.60 77.22,256.90 83.39,248.60 89.56,279.80 95.72,279.30 101.88,241.00 108.05,232.80 114.22,268.10 120.38,287.60 126.54,275.70 132.71,273.10 138.88,278.20 145.04,268.00 151.21,259.00 157.37,275.20 163.53,283.80 169.70,257.30 175.87,231.60 182.03,241.10 188.19,261.80 194.36,266.70" fill="none" stroke="#808080" stroke-width="0.8" stroke-linejoin="round"/>
<circle cx="46.40" cy="302.30" r="2.70" fill="none" stroke="#808080" stroke-width="0.8"/>
<circle cx="52.56" cy="287.00" r="2.70" fill="none" stroke="#808080" stroke-width="0.8"/>
<circle cx="58.73" cy="266.00" r="2.70" fill="none" stroke="#808080" stroke-width="0.8"/>
<circle cx="64.89" cy="284.20" r="2.70" fill="none" stroke="#808080" stroke-width="0.8"/>
<circle cx="71.06" cy="289.60" r="2.70" fill="none" stroke="#808080" stroke-width="0.8"/>
<circle cx="77.22" cy="256.90" r="2.70" fill="none" stroke="#808080" stroke-width="0.8"/>
<circle cx="83.39" cy="248.60" r="2.70" fill="none" stroke="#808080" stroke-width="0.8"/>
<circle cx="89.56" cy="279.80" r="2.70" fill="none" stroke="#808080" stroke-width="0.8"/>
<circle cx="95.72" cy="279.30" r="2.70" fill="none" stroke="#808080" stroke-width="0.8"/>
<circle cx="101.88" cy="241.00" r="2.70" fill="none" stroke="#808080" stroke-width="0.8"/>
<circle cx="108.05" cy="232.80" r="2.70" fill="none" stroke="#808080" stroke-width="0.8"/>
<circle cx="114.22" cy="268.10" r="2.70" fill="none" stroke="#808080" stroke-width="0.8"/>
<circle cx="120.38" cy="287.60" r="2.70" fill="none" stroke="#808080" stroke-width="0.8"/>
<circle cx="126.54" cy="275.70" r="2.70" fill="none" stroke="#808080" stroke-width="0.8"/>
<circle cx="132.71" cy="273.10" r="2.70" fill="none" stroke="#808080" stroke-width="0.8"/>
<circle cx="138.88" cy="278.20" r="2.70" fill="none" stroke="#808080" stroke-width="0.8"/>
<circle cx="145.04" cy="268.00" r="2.70" fill="none" stroke="#808080" stroke-width="0.8"/>
<circle cx="151.21" cy="259.00" r="2.70" fill="none" stroke="#808080" stroke-width="0.8"/>
<circle cx="157.37" cy="275.20" r="2.70" fill="none" stroke="#808080" stroke-width="0.8"/>
<circle cx="163.53" cy="283.80" r="2.70" fill="none" stroke="#808080" stroke-width="0.8"/>
<circle cx="169.70" cy="257.30" r="2.70" fill="none" stroke="#808080" stroke-width="0.8"/>
<circle cx="175.87" cy="231.60" r="2.70" fill="none" stroke="#808080" stroke-width="0.8"/>
<circle cx="182.03" cy="241.10" r="2.70" fill="none" stroke="#808080" stroke-width="0.8"/>
<circle cx="188.19" cy="261.80" r="2.70" fill="none" stroke="#808080" stroke-width="0.8"/>
<circle cx="194.36" cy="266.70" r="2.70" fill="none" stroke="#808080" stroke-width="0.8"/>
<polyline points="46.40,299.30 52.56,286.00 58.73,267.00 64.89,284.20 71.06,288.60 77.22,256.90 83.39,249.60 89.56,277.80 95.72,278.30 101.88,241.00 108.05,232.80 114.22,268.10 120.38,286.60 126.54,271.70 132.71,270.10 138.88,276.20 145.04,272.00 151.21,259.00 157.37,270.20 163.53,280.80 169.70,259.30 175.87,232.60 182.03,240.10 188.19,261.80 194.36,267.70" fill="none" stroke="#2a6ae8" stroke-width="0.8" stroke-linejoin="round"/>
<polygon points="46.40,295.85 43.25,301.55 49.55,301.55" fill="none" stroke="#2a6ae8" stroke-width="0.8" stroke-linejoin="miter"/>
<polygon points="52.56,282.55 49.41,288.25 55.71,288.25" fill="none" stroke="#2a6ae8" stroke-width="0.8" stroke-linejoin="miter"/>
<polygon points="58.73,263.55 55.58,269.25 61.88,269.25" fill="none" stroke="#2a6ae8" stroke-width="0.8" stroke-linejoin="miter"/>
<polygon points="64.89,280.75 61.74,286.45 68.05,286.45" fill="none" stroke="#2a6ae8" stroke-width="0.8" stroke-linejoin="miter"/>
<polygon points="71.06,285.15 67.91,290.85 74.21,290.85" fill="none" stroke="#2a6ae8" stroke-width="0.8" stroke-linejoin="miter"/>
<polygon points="77.22,253.45 74.07,259.15 80.38,259.15" fill="none" stroke="#2a6ae8" stroke-width="0.8" stroke-linejoin="miter"/>
<polygon points="83.39,246.15 80.24,251.85 86.54,251.85" fill="none" stroke="#2a6ae8" stroke-width="0.8" stroke-linejoin="miter"/>
<polygon points="89.56,274.35 86.41,280.05 92.71,280.05" fill="none" stroke="#2a6ae8" stroke-width="0.8" stroke-linejoin="miter"/>
<polygon points="95.72,274.85 92.57,280.55 98.87,280.55" fill="none" stroke="#2a6ae8" stroke-width="0.8" stroke-linejoin="miter"/>
<polygon points="101.88,237.55 98.73,243.25 105.03,243.25" fill="none" stroke="#2a6ae8" stroke-width="0.8" stroke-linejoin="miter"/>
<polygon points="108.05,229.35 104.90,235.05 111.20,235.05" fill="none" stroke="#2a6ae8" stroke-width="0.8" stroke-linejoin="miter"/>
<polygon points="114.22,264.65 111.06,270.35 117.37,270.35" fill="none" stroke="#2a6ae8" stroke-width="0.8" stroke-linejoin="miter"/>
<polygon points="120.38,283.15 117.23,288.85 123.53,288.85" fill="none" stroke="#2a6ae8" stroke-width="0.8" stroke-linejoin="miter"/>
<polygon points="126.54,268.25 123.39,273.95 129.69,273.95" fill="none" stroke="#2a6ae8" stroke-width="0.8" stroke-linejoin="miter"/>
<polygon points="132.71,266.65 129.56,272.35 135.86,272.35" fill="none" stroke="#2a6ae8" stroke-width="0.8" stroke-linejoin="miter"/>
<polygon points="138.88,272.75 135.72,278.45 142.03,278.45" fill="none" stroke="#2a6ae8" stroke-width="0.8" stroke-linejoin="miter"/>
<polygon points="145.04,268.55 141.89,274.25 148.19,274.25" fill="none" stroke="#2a6ae8" stroke-width="0.8" stroke-linejoin="miter"/>
<polygon points="151.21,255.55 148.06,261.25 154.36,261.25" fill="none" stroke="#2a6ae8" stroke-width="0.8" stroke-linejoin="miter"/>
<polygon points="157.37,266.75 154.22,272.45 160.52,272.45" fill="none" stroke="#2a6ae8" stroke-width="0.8" stroke-linejoin="miter"/>
<polygon points="163.53,277.35 160.38,283.05 166.69,283.05" fill="none" stroke="#2a6ae8" stroke-width="0.8" stroke-linejoin="miter"/>
<polygon points="169.70,255.85 166.55,261.55 172.85,261.55" fill="none" stroke="#2a6ae8" stroke-width="0.8" stroke-linejoin="miter"/>
<polygon points="175.87,229.15 172.72,234.85 179.02,234.85" fill="none" stroke="#2a6ae8" stroke-width="0.8" stroke-linejoin="miter"/>
<polygon points="182.03,236.65 178.88,242.35 185.18,242.35" fill="none" stroke="#2a6ae8" stroke-width="0.8" stroke-linejoin="miter"/>
<polygon points="188.19,258.35 185.04,264.05 191.34,264.05" fill="none" stroke="#2a6ae8" stroke-width="0.8" stroke-linejoin="miter"/>
<polygon points="194.36,264.25 191.21,269.95 197.51,269.95" fill="none" stroke="#2a6ae8" stroke-width="0.8" stroke-linejoin="miter"/>
<polyline points="46.40,300.30 52.56,287.00 58.73,266.00 64.89,284.20 71.06,289.60 77.22,255.90 83.39,248.60 89.56,275.80 95.72,276.30 101.88,241.00 108.05,232.80 114.22,267.10 120.38,284.60 126.54,269.70 132.71,268.10 138.88,280.20 145.04,276.00 151.21,260.00 157.37,265.20 163.53,276.80 169.70,258.30 175.87,235.60 182.03,243.10 188.19,261.80 194.36,266.70" fill="none" stroke="#36a86a" stroke-width="0.8" stroke-linejoin="round"/>
<polygon points="46.40,303.75 43.25,298.05 49.55,298.05" fill="none" stroke="#36a86a" stroke-width="0.8" stroke-linejoin="miter"/>
<polygon points="52.56,290.45 49.41,284.75 55.71,284.75" fill="none" stroke="#36a86a" stroke-width="0.8" stroke-linejoin="miter"/>
<polygon points="58.73,269.45 55.58,263.75 61.88,263.75" fill="none" stroke="#36a86a" stroke-width="0.8" stroke-linejoin="miter"/>
<polygon points="64.89,287.65 61.74,281.95 68.05,281.95" fill="none" stroke="#36a86a" stroke-width="0.8" stroke-linejoin="miter"/>
<polygon points="71.06,293.05 67.91,287.35 74.21,287.35" fill="none" stroke="#36a86a" stroke-width="0.8" stroke-linejoin="miter"/>
<polygon points="77.22,259.35 74.07,253.65 80.38,253.65" fill="none" stroke="#36a86a" stroke-width="0.8" stroke-linejoin="miter"/>
<polygon points="83.39,252.05 80.24,246.35 86.54,246.35" fill="none" stroke="#36a86a" stroke-width="0.8" stroke-linejoin="miter"/>
<polygon points="89.56,279.25 86.41,273.55 92.71,273.55" fill="none" stroke="#36a86a" stroke-width="0.8" stroke-linejoin="miter"/>
<polygon points="95.72,279.75 92.57,274.05 98.87,274.05" fill="none" stroke="#36a86a" stroke-width="0.8" stroke-linejoin="miter"/>
<polygon points="101.88,244.45 98.73,238.75 105.03,238.75" fill="none" stroke="#36a86a" stroke-width="0.8" stroke-linejoin="miter"/>
<polygon points="108.05,236.25 104.90,230.55 111.20,230.55" fill="none" stroke="#36a86a" stroke-width="0.8" stroke-linejoin="miter"/>
<polygon points="114.22,270.55 111.06,264.85 117.37,264.85" fill="none" stroke="#36a86a" stroke-width="0.8" stroke-linejoin="miter"/>
<polygon points="120.38,288.05 117.23,282.35 123.53,282.35" fill="none" stroke="#36a86a" stroke-width="0.8" stroke-linejoin="miter"/>
<polygon points="126.54,273.15 123.39,267.45 129.69,267.45" fill="none" stroke="#36a86a" stroke-width="0.8" stroke-linejoin="miter"/>
<polygon points="132.71,271.55 129.56,265.85 135.86,265.85" fill="none" stroke="#36a86a" stroke-width="0.8" stroke-linejoin="miter"/>
<polygon points="138.88,283.65 135.72,277.95 142.03,277.95" fill="none" stroke="#36a86a" stroke-width="0.8" stroke-linejoin="miter"/>
<polygon points="145.04,279.45 141.89,273.75 148.19,273.75" fill="none" stroke="#36a86a" stroke-width="0.8" stroke-linejoin="miter"/>
<polygon points="151.21,263.45 148.06,257.75 154.36,257.75" fill="none" stroke="#36a86a" stroke-width="0.8" stroke-linejoin="miter"/>
<polygon points="157.37,268.65 154.22,262.95 160.52,262.95" fill="none" stroke="#36a86a" stroke-width="0.8" stroke-linejoin="miter"/>
<polygon points="163.53,280.25 160.38,274.55 166.69,274.55" fill="none" stroke="#36a86a" stroke-width="0.8" stroke-linejoin="miter"/>
<polygon points="169.70,261.75 166.55,256.05 172.85,256.05" fill="none" stroke="#36a86a" stroke-width="0.8" stroke-linejoin="miter"/>
<polygon points="175.87,239.05 172.72,233.35 179.02,233.35" fill="none" stroke="#36a86a" stroke-width="0.8" stroke-linejoin="miter"/>
<polygon points="182.03,246.55 178.88,240.85 185.18,240.85" fill="none" stroke="#36a86a" stroke-width="0.8" stroke-linejoin="miter"/>
<polygon points="188.19,265.25 185.04,259.55 191.34,259.55" fill="none" stroke="#36a86a" stroke-width="0.8" stroke-linejoin="miter"/>
<polygon points="194.36,270.15 191.21,264.45 197.51,264.45" fill="none" stroke="#36a86a" stroke-width="0.8" stroke-linejoin="miter"/>
<polyline points="46.40,303.30 52.56,288.00 58.73,265.50 64.89,285.20 71.06,290.60 77.22,257.90 83.39,248.10 89.56,271.80 95.72,274.30 101.88,240.00 108.05,233.80 114.22,267.10 120.38,282.60 126.54,267.70 132.71,266.10 138.88,281.20 145.04,278.00 151.21,260.00 157.37,263.20 163.53,274.80 169.70,260.30 175.87,238.60 182.03,245.10 188.19,262.80 194.36,265.70" fill="none" stroke="#a070e8" stroke-width="0.8" stroke-linejoin="round"/>
<polygon points="46.40,300.08 49.62,303.30 46.40,306.52 43.18,303.30" fill="none" stroke="#a070e8" stroke-width="0.8" stroke-linejoin="miter"/>
<polygon points="52.56,284.78 55.78,288.00 52.56,291.22 49.34,288.00" fill="none" stroke="#a070e8" stroke-width="0.8" stroke-linejoin="miter"/>
<polygon points="58.73,262.28 61.95,265.50 58.73,268.72 55.51,265.50" fill="none" stroke="#a070e8" stroke-width="0.8" stroke-linejoin="miter"/>
<polygon points="64.89,281.98 68.11,285.20 64.89,288.42 61.67,285.20" fill="none" stroke="#a070e8" stroke-width="0.8" stroke-linejoin="miter"/>
<polygon points="71.06,287.38 74.28,290.60 71.06,293.82 67.84,290.60" fill="none" stroke="#a070e8" stroke-width="0.8" stroke-linejoin="miter"/>
<polygon points="77.22,254.68 80.44,257.90 77.22,261.12 74.00,257.90" fill="none" stroke="#a070e8" stroke-width="0.8" stroke-linejoin="miter"/>
<polygon points="83.39,244.88 86.61,248.10 83.39,251.32 80.17,248.10" fill="none" stroke="#a070e8" stroke-width="0.8" stroke-linejoin="miter"/>
<polygon points="89.56,268.58 92.78,271.80 89.56,275.02 86.34,271.80" fill="none" stroke="#a070e8" stroke-width="0.8" stroke-linejoin="miter"/>
<polygon points="95.72,271.08 98.94,274.30 95.72,277.52 92.50,274.30" fill="none" stroke="#a070e8" stroke-width="0.8" stroke-linejoin="miter"/>
<polygon points="101.88,236.78 105.10,240.00 101.88,243.22 98.66,240.00" fill="none" stroke="#a070e8" stroke-width="0.8" stroke-linejoin="miter"/>
<polygon points="108.05,230.58 111.27,233.80 108.05,237.02 104.83,233.80" fill="none" stroke="#a070e8" stroke-width="0.8" stroke-linejoin="miter"/>
<polygon points="114.22,263.88 117.44,267.10 114.22,270.32 111.00,267.10" fill="none" stroke="#a070e8" stroke-width="0.8" stroke-linejoin="miter"/>
<polygon points="120.38,279.38 123.60,282.60 120.38,285.82 117.16,282.60" fill="none" stroke="#a070e8" stroke-width="0.8" stroke-linejoin="miter"/>
<polygon points="126.54,264.48 129.76,267.70 126.54,270.92 123.32,267.70" fill="none" stroke="#a070e8" stroke-width="0.8" stroke-linejoin="miter"/>
<polygon points="132.71,262.88 135.93,266.10 132.71,269.32 129.49,266.10" fill="none" stroke="#a070e8" stroke-width="0.8" stroke-linejoin="miter"/>
<polygon points="138.88,277.98 142.09,281.20 138.88,284.42 135.66,281.20" fill="none" stroke="#a070e8" stroke-width="0.8" stroke-linejoin="miter"/>
<polygon points="145.04,274.78 148.26,278.00 145.04,281.22 141.82,278.00" fill="none" stroke="#a070e8" stroke-width="0.8" stroke-linejoin="miter"/>
<polygon points="151.21,256.78 154.43,260.00 151.21,263.22 147.99,260.00" fill="none" stroke="#a070e8" stroke-width="0.8" stroke-linejoin="miter"/>
<polygon points="157.37,259.98 160.59,263.20 157.37,266.42 154.15,263.20" fill="none" stroke="#a070e8" stroke-width="0.8" stroke-linejoin="miter"/>
<polygon points="163.53,271.58 166.75,274.80 163.53,278.02 160.31,274.80" fill="none" stroke="#a070e8" stroke-width="0.8" stroke-linejoin="miter"/>
<polygon points="169.70,257.08 172.92,260.30 169.70,263.52 166.48,260.30" fill="none" stroke="#a070e8" stroke-width="0.8" stroke-linejoin="miter"/>
<polygon points="175.87,235.38 179.09,238.60 175.87,241.82 172.65,238.60" fill="none" stroke="#a070e8" stroke-width="0.8" stroke-linejoin="miter"/>
<polygon points="182.03,241.88 185.25,245.10 182.03,248.32 178.81,245.10" fill="none" stroke="#a070e8" stroke-width="0.8" stroke-linejoin="miter"/>
<polygon points="188.19,259.58 191.41,262.80 188.19,266.02 184.97,262.80" fill="none" stroke="#a070e8" stroke-width="0.8" stroke-linejoin="miter"/>
<polygon points="194.36,262.48 197.58,265.70 194.36,268.92 191.14,265.70" fill="none" stroke="#a070e8" stroke-width="0.8" stroke-linejoin="miter"/>
<polyline points="46.40,304.30 52.56,289.00 58.73,265.00 64.89,285.20 71.06,291.60 77.22,258.90 83.39,247.60 89.56,268.80 95.72,271.30 101.88,240.00 108.05,233.80 114.22,266.10 120.38,280.60 126.54,265.70 132.71,265.10 138.88,282.20 145.04,280.00 151.21,261.00 157.37,261.20 163.53,271.80 169.70,261.30 175.87,241.60 182.03,247.10 188.19,262.80 194.36,264.70" fill="none" stroke="#ff0000" stroke-width="1.0" stroke-linejoin="round"/>
<rect x="43.70" y="301.60" width="5.40" height="5.40" fill="none" stroke="#ff0000" stroke-width="1.05"/>
<rect x="49.86" y="286.30" width="5.40" height="5.40" fill="none" stroke="#ff0000" stroke-width="1.05"/>
<rect x="56.03" y="262.30" width="5.40" height="5.40" fill="none" stroke="#ff0000" stroke-width="1.05"/>
<rect x="62.19" y="282.50" width="5.40" height="5.40" fill="none" stroke="#ff0000" stroke-width="1.05"/>
<rect x="68.36" y="288.90" width="5.40" height="5.40" fill="none" stroke="#ff0000" stroke-width="1.05"/>
<rect x="74.52" y="256.20" width="5.40" height="5.40" fill="none" stroke="#ff0000" stroke-width="1.05"/>
<rect x="80.69" y="244.90" width="5.40" height="5.40" fill="none" stroke="#ff0000" stroke-width="1.05"/>
<rect x="86.86" y="266.10" width="5.40" height="5.40" fill="none" stroke="#ff0000" stroke-width="1.05"/>
<rect x="93.02" y="268.60" width="5.40" height="5.40" fill="none" stroke="#ff0000" stroke-width="1.05"/>
<rect x="99.18" y="237.30" width="5.40" height="5.40" fill="none" stroke="#ff0000" stroke-width="1.05"/>
<rect x="105.35" y="231.10" width="5.40" height="5.40" fill="none" stroke="#ff0000" stroke-width="1.05"/>
<rect x="111.52" y="263.40" width="5.40" height="5.40" fill="none" stroke="#ff0000" stroke-width="1.05"/>
<rect x="117.68" y="277.90" width="5.40" height="5.40" fill="none" stroke="#ff0000" stroke-width="1.05"/>
<rect x="123.84" y="263.00" width="5.40" height="5.40" fill="none" stroke="#ff0000" stroke-width="1.05"/>
<rect x="130.01" y="262.40" width="5.40" height="5.40" fill="none" stroke="#ff0000" stroke-width="1.05"/>
<rect x="136.18" y="279.50" width="5.40" height="5.40" fill="none" stroke="#ff0000" stroke-width="1.05"/>
<rect x="142.34" y="277.30" width="5.40" height="5.40" fill="none" stroke="#ff0000" stroke-width="1.05"/>
<rect x="148.51" y="258.30" width="5.40" height="5.40" fill="none" stroke="#ff0000" stroke-width="1.05"/>
<rect x="154.67" y="258.50" width="5.40" height="5.40" fill="none" stroke="#ff0000" stroke-width="1.05"/>
<rect x="160.84" y="269.10" width="5.40" height="5.40" fill="none" stroke="#ff0000" stroke-width="1.05"/>
<rect x="167.00" y="258.60" width="5.40" height="5.40" fill="none" stroke="#ff0000" stroke-width="1.05"/>
<rect x="173.17" y="238.90" width="5.40" height="5.40" fill="none" stroke="#ff0000" stroke-width="1.05"/>
<rect x="179.33" y="244.40" width="5.40" height="5.40" fill="none" stroke="#ff0000" stroke-width="1.05"/>
<rect x="185.50" y="260.10" width="5.40" height="5.40" fill="none" stroke="#ff0000" stroke-width="1.05"/>
<rect x="191.66" y="262.00" width="5.40" height="5.40" fill="none" stroke="#ff0000" stroke-width="1.05"/>
<rect x="46.4" y="219.8" width="148.20" height="122.80" fill="none" stroke="#000" stroke-width="1.1"/>
<line x1="46.4" y1="234.18" x2="49.4" y2="234.18" stroke="#000" stroke-width="0.9"/>
<line x1="46.4" y1="248.64" x2="48.199999999999996" y2="248.64" stroke="#000" stroke-width="0.9"/>
<line x1="46.4" y1="263.10" x2="49.4" y2="263.10" stroke="#000" stroke-width="0.9"/>
<line x1="46.4" y1="277.56" x2="48.199999999999996" y2="277.56" stroke="#000" stroke-width="0.9"/>
<line x1="46.4" y1="292.02" x2="49.4" y2="292.02" stroke="#000" stroke-width="0.9"/>
<line x1="46.4" y1="306.48" x2="48.199999999999996" y2="306.48" stroke="#000" stroke-width="0.9"/>
<line x1="46.4" y1="320.94" x2="49.4" y2="320.94" stroke="#000" stroke-width="0.9"/>
<line x1="46.4" y1="335.40" x2="48.199999999999996" y2="335.40" stroke="#000" stroke-width="0.9"/>
<line x1="58.73" y1="342.6" x2="58.73" y2="340.8" stroke="#000" stroke-width="0.9"/>
<line x1="71.06" y1="342.6" x2="71.06" y2="339.6" stroke="#000" stroke-width="0.9"/>
<line x1="83.39" y1="342.6" x2="83.39" y2="340.8" stroke="#000" stroke-width="0.9"/>
<line x1="95.72" y1="342.6" x2="95.72" y2="339.6" stroke="#000" stroke-width="0.9"/>
<line x1="108.05" y1="342.6" x2="108.05" y2="340.8" stroke="#000" stroke-width="0.9"/>
<line x1="120.38" y1="342.6" x2="120.38" y2="339.6" stroke="#000" stroke-width="0.9"/>
<line x1="132.71" y1="342.6" x2="132.71" y2="340.8" stroke="#000" stroke-width="0.9"/>
<line x1="145.04" y1="342.6" x2="145.04" y2="339.6" stroke="#000" stroke-width="0.9"/>
<line x1="157.37" y1="342.6" x2="157.37" y2="340.8" stroke="#000" stroke-width="0.9"/>
<line x1="169.70" y1="342.6" x2="169.70" y2="339.6" stroke="#000" stroke-width="0.9"/>
<line x1="182.03" y1="342.6" x2="182.03" y2="340.8" stroke="#000" stroke-width="0.9"/>
<text x="42.86" y="237.86" font-size="11.50" text-anchor="end" >0.02</text>
<text x="42.86" y="266.78" font-size="11.50" text-anchor="end" >0.00</text>
<text x="42.86" y="295.70" font-size="11.50" text-anchor="end" >-0.02</text>
<text x="42.86" y="324.62" font-size="11.50" text-anchor="end" >-0.04</text>
<text x="46.40" y="355.19" font-size="11.50" text-anchor="middle" >4</text>
<text x="71.06" y="355.19" font-size="11.50" text-anchor="middle" >8</text>
<text x="95.72" y="355.19" font-size="11.50" text-anchor="middle" >12</text>
<text x="120.38" y="355.19" font-size="11.50" text-anchor="middle" >16</text>
<text x="145.04" y="355.19" font-size="11.50" text-anchor="middle" >20</text>
<text x="169.70" y="355.19" font-size="11.50" text-anchor="middle" >24</text>
<text x="194.36" y="355.19" font-size="11.50" text-anchor="middle" >28</text>
<text x="15.80" y="281.00" font-size="14.50" text-anchor="middle" transform="rotate(-90 15.8 281)">spin density</text>
<text x="47.70" y="243.90" font-size="21.80" text-anchor="start" >(b)</text>
<text x="0" y="0" font-size="18.6" font-style="italic" style="stroke-width:0.18px" transform="translate(75.8 241.3) skewX(-14)">d</text>
<text x="86.30" y="244.00" font-size="13.40" text-anchor="start" font-style="italic">z</text>
<text x="91.20" y="241.20" font-size="9.40" text-anchor="start" >2</text>
<text x="120.80" y="367.70" font-size="18.20" text-anchor="middle" font-style="italic">x</text>
<rect x="76.3" y="295.1" width="116.3" height="40.2" fill="#fff" stroke="#606060" stroke-width="0.9"/>
<line x1="77.60" y1="302.20" x2="90.00" y2="302.20" stroke="#808080" stroke-width="0.8"/>
<circle cx="80.80" cy="302.20" r="2.80" fill="none" stroke="#808080" stroke-width="1.0"/>
<circle cx="86.80" cy="302.20" r="2.80" fill="none" stroke="#808080" stroke-width="1.0"/>
<line x1="77.40" y1="315.40" x2="90.20" y2="315.40" stroke="#2a6ae8" stroke-width="0.8"/>
<polygon points="80.60,311.60 77.13,317.88 84.06,317.88" fill="none" stroke="#2a6ae8" stroke-width="1.0" stroke-linejoin="miter"/>
<polygon points="87.00,311.60 83.53,317.88 90.47,317.88" fill="none" stroke="#2a6ae8" stroke-width="1.0" stroke-linejoin="miter"/>
<line x1="77.40" y1="328.60" x2="90.20" y2="328.60" stroke="#36a86a" stroke-width="0.8"/>
<polygon points="80.60,332.40 77.13,326.12 84.06,326.12" fill="none" stroke="#36a86a" stroke-width="1.0" stroke-linejoin="miter"/>
<polygon points="87.00,332.40 83.53,326.12 90.47,326.12" fill="none" stroke="#36a86a" stroke-width="1.0" stroke-linejoin="miter"/>
<text x="92.50" y="305.20" font-size="10.60" text-anchor="start" >m=8000</text>
<text x="92.50" y="318.40" font-size="10.60" text-anchor="start" >m=9000</text>
<text x="92.50" y="331.40" font-size="10.60" text-anchor="start" >m=10000</text>
<line x1="134.40" y1="302.40" x2="147.00" y2="302.40" stroke="#a070e8" stroke-width="0.8"/>
<polygon points="137.60,299.18 140.82,302.40 137.60,305.62 134.38,302.40" fill="none" stroke="#a070e8" stroke-width="1.0" stroke-linejoin="miter"/>
<polygon points="143.80,299.18 147.02,302.40 143.80,305.62 140.58,302.40" fill="none" stroke="#a070e8" stroke-width="1.0" stroke-linejoin="miter"/>
<line x1="134.40" y1="315.40" x2="147.00" y2="315.40" stroke="#ff0000" stroke-width="0.8"/>
<rect x="135.00" y="312.80" width="5.20" height="5.20" fill="none" stroke="#ff0000" stroke-width="1.0"/>
<rect x="141.20" y="312.80" width="5.20" height="5.20" fill="none" stroke="#ff0000" stroke-width="1.0"/>
<text x="150.00" y="305.60" font-size="10.60" text-anchor="start" >m=14000</text>
<text x="150.00" y="318.60" font-size="10.60" text-anchor="start" >m=18000</text>
<line x1="228.1" y1="296.50" x2="375.3" y2="296.50" stroke="#000" stroke-width="1.1" stroke-dasharray="3.1 2.4"/>
<polyline points="228.10,244.80 234.23,308.10 240.36,321.50 246.49,275.50 252.62,258.00 258.75,305.80 264.88,335.60 271.01,310.60 277.14,300.80 283.27,335.20 289.40,328.00 295.53,289.50 301.66,302.00 307.79,334.20 313.92,308.80 320.05,264.70 326.18,263.30 332.31,298.60 338.44,320.50 344.57,305.40 350.70,289.40 356.83,292.60 362.96,292.00 369.09,293.60 375.22,312.20" fill="none" stroke="#808080" stroke-width="0.8" stroke-linejoin="round"/>
<circle cx="228.10" cy="244.80" r="2.70" fill="none" stroke="#808080" stroke-width="0.8"/>
<circle cx="234.23" cy="308.10" r="2.70" fill="none" stroke="#808080" stroke-width="0.8"/>
<circle cx="240.36" cy="321.50" r="2.70" fill="none" stroke="#808080" stroke-width="0.8"/>
<circle cx="246.49" cy="275.50" r="2.70" fill="none" stroke="#808080" stroke-width="0.8"/>
<circle cx="252.62" cy="258.00" r="2.70" fill="none" stroke="#808080" stroke-width="0.8"/>
<circle cx="258.75" cy="305.80" r="2.70" fill="none" stroke="#808080" stroke-width="0.8"/>
<circle cx="264.88" cy="335.60" r="2.70" fill="none" stroke="#808080" stroke-width="0.8"/>
<circle cx="271.01" cy="310.60" r="2.70" fill="none" stroke="#808080" stroke-width="0.8"/>
<circle cx="277.14" cy="300.80" r="2.70" fill="none" stroke="#808080" stroke-width="0.8"/>
<circle cx="283.27" cy="335.20" r="2.70" fill="none" stroke="#808080" stroke-width="0.8"/>
<circle cx="289.40" cy="328.00" r="2.70" fill="none" stroke="#808080" stroke-width="0.8"/>
<circle cx="295.53" cy="289.50" r="2.70" fill="none" stroke="#808080" stroke-width="0.8"/>
<circle cx="301.66" cy="302.00" r="2.70" fill="none" stroke="#808080" stroke-width="0.8"/>
<circle cx="307.79" cy="334.20" r="2.70" fill="none" stroke="#808080" stroke-width="0.8"/>
<circle cx="313.92" cy="308.80" r="2.70" fill="none" stroke="#808080" stroke-width="0.8"/>
<circle cx="320.05" cy="264.70" r="2.70" fill="none" stroke="#808080" stroke-width="0.8"/>
<circle cx="326.18" cy="263.30" r="2.70" fill="none" stroke="#808080" stroke-width="0.8"/>
<circle cx="332.31" cy="298.60" r="2.70" fill="none" stroke="#808080" stroke-width="0.8"/>
<circle cx="338.44" cy="320.50" r="2.70" fill="none" stroke="#808080" stroke-width="0.8"/>
<circle cx="344.57" cy="305.40" r="2.70" fill="none" stroke="#808080" stroke-width="0.8"/>
<circle cx="350.70" cy="289.40" r="2.70" fill="none" stroke="#808080" stroke-width="0.8"/>
<circle cx="356.83" cy="292.60" r="2.70" fill="none" stroke="#808080" stroke-width="0.8"/>
<circle cx="362.96" cy="292.00" r="2.70" fill="none" stroke="#808080" stroke-width="0.8"/>
<circle cx="369.09" cy="293.60" r="2.70" fill="none" stroke="#808080" stroke-width="0.8"/>
<circle cx="375.22" cy="312.20" r="2.70" fill="none" stroke="#808080" stroke-width="0.8"/>
<polyline points="228.10,247.80 234.23,310.10 240.36,322.50 246.49,276.50 252.62,258.00 258.75,305.80 264.88,336.60 271.01,310.60 277.14,301.80 283.27,337.20 289.40,332.00 295.53,286.50 301.66,294.00 307.79,329.20 313.92,308.80 320.05,261.70 326.18,262.30 332.31,298.60 338.44,316.50 344.57,299.40 350.70,288.40 356.83,298.60 362.96,297.00 369.09,293.60 375.22,310.20" fill="none" stroke="#2a6ae8" stroke-width="0.8" stroke-linejoin="round"/>
<polygon points="228.10,244.35 224.95,250.05 231.25,250.05" fill="none" stroke="#2a6ae8" stroke-width="0.8" stroke-linejoin="miter"/>
<polygon points="234.23,306.65 231.08,312.35 237.38,312.35" fill="none" stroke="#2a6ae8" stroke-width="0.8" stroke-linejoin="miter"/>
<polygon points="240.36,319.05 237.21,324.75 243.51,324.75" fill="none" stroke="#2a6ae8" stroke-width="0.8" stroke-linejoin="miter"/>
<polygon points="246.49,273.05 243.34,278.75 249.64,278.75" fill="none" stroke="#2a6ae8" stroke-width="0.8" stroke-linejoin="miter"/>
<polygon points="252.62,254.55 249.47,260.25 255.77,260.25" fill="none" stroke="#2a6ae8" stroke-width="0.8" stroke-linejoin="miter"/>
<polygon points="258.75,302.35 255.60,308.05 261.90,308.05" fill="none" stroke="#2a6ae8" stroke-width="0.8" stroke-linejoin="miter"/>
<polygon points="264.88,333.15 261.73,338.85 268.03,338.85" fill="none" stroke="#2a6ae8" stroke-width="0.8" stroke-linejoin="miter"/>
<polygon points="271.01,307.15 267.86,312.85 274.16,312.85" fill="none" stroke="#2a6ae8" stroke-width="0.8" stroke-linejoin="miter"/>
<polygon points="277.14,298.35 273.99,304.05 280.29,304.05" fill="none" stroke="#2a6ae8" stroke-width="0.8" stroke-linejoin="miter"/>
<polygon points="283.27,333.75 280.12,339.45 286.42,339.45" fill="none" stroke="#2a6ae8" stroke-width="0.8" stroke-linejoin="miter"/>
<polygon points="289.40,328.55 286.25,334.25 292.55,334.25" fill="none" stroke="#2a6ae8" stroke-width="0.8" stroke-linejoin="miter"/>
<polygon points="295.53,283.05 292.38,288.75 298.68,288.75" fill="none" stroke="#2a6ae8" stroke-width="0.8" stroke-linejoin="miter"/>
<polygon points="301.66,290.55 298.51,296.25 304.81,296.25" fill="none" stroke="#2a6ae8" stroke-width="0.8" stroke-linejoin="miter"/>
<polygon points="307.79,325.75 304.64,331.45 310.94,331.45" fill="none" stroke="#2a6ae8" stroke-width="0.8" stroke-linejoin="miter"/>
<polygon points="313.92,305.35 310.77,311.05 317.07,311.05" fill="none" stroke="#2a6ae8" stroke-width="0.8" stroke-linejoin="miter"/>
<polygon points="320.05,258.25 316.90,263.95 323.20,263.95" fill="none" stroke="#2a6ae8" stroke-width="0.8" stroke-linejoin="miter"/>
<polygon points="326.18,258.85 323.03,264.55 329.33,264.55" fill="none" stroke="#2a6ae8" stroke-width="0.8" stroke-linejoin="miter"/>
<polygon points="332.31,295.15 329.16,300.85 335.46,300.85" fill="none" stroke="#2a6ae8" stroke-width="0.8" stroke-linejoin="miter"/>
<polygon points="338.44,313.05 335.29,318.75 341.59,318.75" fill="none" stroke="#2a6ae8" stroke-width="0.8" stroke-linejoin="miter"/>
<polygon points="344.57,295.95 341.42,301.65 347.72,301.65" fill="none" stroke="#2a6ae8" stroke-width="0.8" stroke-linejoin="miter"/>
<polygon points="350.70,284.95 347.55,290.65 353.85,290.65" fill="none" stroke="#2a6ae8" stroke-width="0.8" stroke-linejoin="miter"/>
<polygon points="356.83,295.15 353.68,300.85 359.98,300.85" fill="none" stroke="#2a6ae8" stroke-width="0.8" stroke-linejoin="miter"/>
<polygon points="362.96,293.55 359.81,299.25 366.11,299.25" fill="none" stroke="#2a6ae8" stroke-width="0.8" stroke-linejoin="miter"/>
<polygon points="369.09,290.15 365.94,295.85 372.24,295.85" fill="none" stroke="#2a6ae8" stroke-width="0.8" stroke-linejoin="miter"/>
<polygon points="375.22,306.75 372.07,312.45 378.37,312.45" fill="none" stroke="#2a6ae8" stroke-width="0.8" stroke-linejoin="miter"/>
<polyline points="228.10,243.80 234.23,308.10 240.36,321.50 246.49,275.50 252.62,258.00 258.75,305.80 264.88,336.60 271.01,310.60 277.14,300.80 283.27,335.20 289.40,331.00 295.53,288.50 301.66,292.00 307.79,323.20 313.92,304.80 320.05,265.70 326.18,265.30 332.31,297.60 338.44,313.50 344.57,296.40 350.70,291.40 356.83,305.60 362.96,303.00 369.09,294.60 375.22,307.20" fill="none" stroke="#36a86a" stroke-width="0.8" stroke-linejoin="round"/>
<polygon points="228.10,247.25 224.95,241.55 231.25,241.55" fill="none" stroke="#36a86a" stroke-width="0.8" stroke-linejoin="miter"/>
<polygon points="234.23,311.55 231.08,305.85 237.38,305.85" fill="none" stroke="#36a86a" stroke-width="0.8" stroke-linejoin="miter"/>
<polygon points="240.36,324.95 237.21,319.25 243.51,319.25" fill="none" stroke="#36a86a" stroke-width="0.8" stroke-linejoin="miter"/>
<polygon points="246.49,278.95 243.34,273.25 249.64,273.25" fill="none" stroke="#36a86a" stroke-width="0.8" stroke-linejoin="miter"/>
<polygon points="252.62,261.45 249.47,255.75 255.77,255.75" fill="none" stroke="#36a86a" stroke-width="0.8" stroke-linejoin="miter"/>
<polygon points="258.75,309.25 255.60,303.55 261.90,303.55" fill="none" stroke="#36a86a" stroke-width="0.8" stroke-linejoin="miter"/>
<polygon points="264.88,340.05 261.73,334.35 268.03,334.35" fill="none" stroke="#36a86a" stroke-width="0.8" stroke-linejoin="miter"/>
<polygon points="271.01,314.05 267.86,308.35 274.16,308.35" fill="none" stroke="#36a86a" stroke-width="0.8" stroke-linejoin="miter"/>
<polygon points="277.14,304.25 273.99,298.55 280.29,298.55" fill="none" stroke="#36a86a" stroke-width="0.8" stroke-linejoin="miter"/>
<polygon points="283.27,338.65 280.12,332.95 286.42,332.95" fill="none" stroke="#36a86a" stroke-width="0.8" stroke-linejoin="miter"/>
<polygon points="289.40,334.45 286.25,328.75 292.55,328.75" fill="none" stroke="#36a86a" stroke-width="0.8" stroke-linejoin="miter"/>
<polygon points="295.53,291.95 292.38,286.25 298.68,286.25" fill="none" stroke="#36a86a" stroke-width="0.8" stroke-linejoin="miter"/>
<polygon points="301.66,295.45 298.51,289.75 304.81,289.75" fill="none" stroke="#36a86a" stroke-width="0.8" stroke-linejoin="miter"/>
<polygon points="307.79,326.65 304.64,320.95 310.94,320.95" fill="none" stroke="#36a86a" stroke-width="0.8" stroke-linejoin="miter"/>
<polygon points="313.92,308.25 310.77,302.55 317.07,302.55" fill="none" stroke="#36a86a" stroke-width="0.8" stroke-linejoin="miter"/>
<polygon points="320.05,269.15 316.90,263.45 323.20,263.45" fill="none" stroke="#36a86a" stroke-width="0.8" stroke-linejoin="miter"/>
<polygon points="326.18,268.75 323.03,263.05 329.33,263.05" fill="none" stroke="#36a86a" stroke-width="0.8" stroke-linejoin="miter"/>
<polygon points="332.31,301.05 329.16,295.35 335.46,295.35" fill="none" stroke="#36a86a" stroke-width="0.8" stroke-linejoin="miter"/>
<polygon points="338.44,316.95 335.29,311.25 341.59,311.25" fill="none" stroke="#36a86a" stroke-width="0.8" stroke-linejoin="miter"/>
<polygon points="344.57,299.85 341.42,294.15 347.72,294.15" fill="none" stroke="#36a86a" stroke-width="0.8" stroke-linejoin="miter"/>
<polygon points="350.70,294.85 347.55,289.15 353.85,289.15" fill="none" stroke="#36a86a" stroke-width="0.8" stroke-linejoin="miter"/>
<polygon points="356.83,309.05 353.68,303.35 359.98,303.35" fill="none" stroke="#36a86a" stroke-width="0.8" stroke-linejoin="miter"/>
<polygon points="362.96,306.45 359.81,300.75 366.11,300.75" fill="none" stroke="#36a86a" stroke-width="0.8" stroke-linejoin="miter"/>
<polygon points="369.09,298.05 365.94,292.35 372.24,292.35" fill="none" stroke="#36a86a" stroke-width="0.8" stroke-linejoin="miter"/>
<polygon points="375.22,310.65 372.07,304.95 378.37,304.95" fill="none" stroke="#36a86a" stroke-width="0.8" stroke-linejoin="miter"/>
<polyline points="228.10,240.80 234.23,305.10 240.36,319.50 246.49,273.50 252.62,257.00 258.75,304.80 264.88,335.60 271.01,309.60 277.14,299.80 283.27,334.20 289.40,332.00 295.53,290.50 301.66,291.00 307.79,318.20 313.92,302.80 320.05,267.70 326.18,267.30 332.31,297.60 338.44,311.50 344.57,294.40 350.70,292.40 356.83,313.10 362.96,309.00 369.09,294.60 375.22,305.20" fill="none" stroke="#a070e8" stroke-width="0.8" stroke-linejoin="round"/>
<polygon points="228.10,237.58 231.32,240.80 228.10,244.02 224.88,240.80" fill="none" stroke="#a070e8" stroke-width="0.8" stroke-linejoin="miter"/>
<polygon points="234.23,301.88 237.45,305.10 234.23,308.32 231.01,305.10" fill="none" stroke="#a070e8" stroke-width="0.8" stroke-linejoin="miter"/>
<polygon points="240.36,316.28 243.58,319.50 240.36,322.72 237.14,319.50" fill="none" stroke="#a070e8" stroke-width="0.8" stroke-linejoin="miter"/>
<polygon points="246.49,270.28 249.71,273.50 246.49,276.72 243.27,273.50" fill="none" stroke="#a070e8" stroke-width="0.8" stroke-linejoin="miter"/>
<polygon points="252.62,253.78 255.84,257.00 252.62,260.22 249.40,257.00" fill="none" stroke="#a070e8" stroke-width="0.8" stroke-linejoin="miter"/>
<polygon points="258.75,301.58 261.97,304.80 258.75,308.02 255.53,304.80" fill="none" stroke="#a070e8" stroke-width="0.8" stroke-linejoin="miter"/>
<polygon points="264.88,332.38 268.10,335.60 264.88,338.82 261.66,335.60" fill="none" stroke="#a070e8" stroke-width="0.8" stroke-linejoin="miter"/>
<polygon points="271.01,306.38 274.23,309.60 271.01,312.82 267.79,309.60" fill="none" stroke="#a070e8" stroke-width="0.8" stroke-linejoin="miter"/>
<polygon points="277.14,296.58 280.36,299.80 277.14,303.02 273.92,299.80" fill="none" stroke="#a070e8" stroke-width="0.8" stroke-linejoin="miter"/>
<polygon points="283.27,330.98 286.49,334.20 283.27,337.42 280.05,334.20" fill="none" stroke="#a070e8" stroke-width="0.8" stroke-linejoin="miter"/>
<polygon points="289.40,328.78 292.62,332.00 289.40,335.22 286.18,332.00" fill="none" stroke="#a070e8" stroke-width="0.8" stroke-linejoin="miter"/>
<polygon points="295.53,287.28 298.75,290.50 295.53,293.72 292.31,290.50" fill="none" stroke="#a070e8" stroke-width="0.8" stroke-linejoin="miter"/>
<polygon points="301.66,287.78 304.88,291.00 301.66,294.22 298.44,291.00" fill="none" stroke="#a070e8" stroke-width="0.8" stroke-linejoin="miter"/>
<polygon points="307.79,314.98 311.01,318.20 307.79,321.42 304.57,318.20" fill="none" stroke="#a070e8" stroke-width="0.8" stroke-linejoin="miter"/>
<polygon points="313.92,299.58 317.14,302.80 313.92,306.02 310.70,302.80" fill="none" stroke="#a070e8" stroke-width="0.8" stroke-linejoin="miter"/>
<polygon points="320.05,264.48 323.27,267.70 320.05,270.92 316.83,267.70" fill="none" stroke="#a070e8" stroke-width="0.8" stroke-linejoin="miter"/>
<polygon points="326.18,264.08 329.40,267.30 326.18,270.52 322.96,267.30" fill="none" stroke="#a070e8" stroke-width="0.8" stroke-linejoin="miter"/>
<polygon points="332.31,294.38 335.53,297.60 332.31,300.82 329.09,297.60" fill="none" stroke="#a070e8" stroke-width="0.8" stroke-linejoin="miter"/>
<polygon points="338.44,308.28 341.66,311.50 338.44,314.72 335.22,311.50" fill="none" stroke="#a070e8" stroke-width="0.8" stroke-linejoin="miter"/>
<polygon points="344.57,291.18 347.79,294.40 344.57,297.62 341.35,294.40" fill="none" stroke="#a070e8" stroke-width="0.8" stroke-linejoin="miter"/>
<polygon points="350.70,289.18 353.92,292.40 350.70,295.62 347.48,292.40" fill="none" stroke="#a070e8" stroke-width="0.8" stroke-linejoin="miter"/>
<polygon points="356.83,309.88 360.05,313.10 356.83,316.32 353.61,313.10" fill="none" stroke="#a070e8" stroke-width="0.8" stroke-linejoin="miter"/>
<polygon points="362.96,305.78 366.18,309.00 362.96,312.22 359.74,309.00" fill="none" stroke="#a070e8" stroke-width="0.8" stroke-linejoin="miter"/>
<polygon points="369.09,291.38 372.31,294.60 369.09,297.82 365.87,294.60" fill="none" stroke="#a070e8" stroke-width="0.8" stroke-linejoin="miter"/>
<polygon points="375.22,301.98 378.44,305.20 375.22,308.42 372.00,305.20" fill="none" stroke="#a070e8" stroke-width="0.8" stroke-linejoin="miter"/>
<polyline points="228.10,238.80 234.23,302.10 240.36,318.50 246.49,272.50 252.62,256.00 258.75,303.80 264.88,335.60 271.01,309.60 277.14,298.80 283.27,333.20 289.40,333.00 295.53,292.50 301.66,289.00 307.79,312.20 313.92,300.80 320.05,268.70 326.18,268.30 332.31,297.60 338.44,310.50 344.57,293.40 350.70,293.40 356.83,316.60 362.96,313.00 369.09,294.60 375.22,303.20" fill="none" stroke="#ff0000" stroke-width="1.0" stroke-linejoin="round"/>
<rect x="225.40" y="236.10" width="5.40" height="5.40" fill="none" stroke="#ff0000" stroke-width="1.05"/>
<rect x="231.53" y="299.40" width="5.40" height="5.40" fill="none" stroke="#ff0000" stroke-width="1.05"/>
<rect x="237.66" y="315.80" width="5.40" height="5.40" fill="none" stroke="#ff0000" stroke-width="1.05"/>
<rect x="243.79" y="269.80" width="5.40" height="5.40" fill="none" stroke="#ff0000" stroke-width="1.05"/>
<rect x="249.92" y="253.30" width="5.40" height="5.40" fill="none" stroke="#ff0000" stroke-width="1.05"/>
<rect x="256.05" y="301.10" width="5.40" height="5.40" fill="none" stroke="#ff0000" stroke-width="1.05"/>
<rect x="262.18" y="332.90" width="5.40" height="5.40" fill="none" stroke="#ff0000" stroke-width="1.05"/>
<rect x="268.31" y="306.90" width="5.40" height="5.40" fill="none" stroke="#ff0000" stroke-width="1.05"/>
<rect x="274.44" y="296.10" width="5.40" height="5.40" fill="none" stroke="#ff0000" stroke-width="1.05"/>
<rect x="280.57" y="330.50" width="5.40" height="5.40" fill="none" stroke="#ff0000" stroke-width="1.05"/>
<rect x="286.70" y="330.30" width="5.40" height="5.40" fill="none" stroke="#ff0000" stroke-width="1.05"/>
<rect x="292.83" y="289.80" width="5.40" height="5.40" fill="none" stroke="#ff0000" stroke-width="1.05"/>
<rect x="298.96" y="286.30" width="5.40" height="5.40" fill="none" stroke="#ff0000" stroke-width="1.05"/>
<rect x="305.09" y="309.50" width="5.40" height="5.40" fill="none" stroke="#ff0000" stroke-width="1.05"/>
<rect x="311.22" y="298.10" width="5.40" height="5.40" fill="none" stroke="#ff0000" stroke-width="1.05"/>
<rect x="317.35" y="266.00" width="5.40" height="5.40" fill="none" stroke="#ff0000" stroke-width="1.05"/>
<rect x="323.48" y="265.60" width="5.40" height="5.40" fill="none" stroke="#ff0000" stroke-width="1.05"/>
<rect x="329.61" y="294.90" width="5.40" height="5.40" fill="none" stroke="#ff0000" stroke-width="1.05"/>
<rect x="335.74" y="307.80" width="5.40" height="5.40" fill="none" stroke="#ff0000" stroke-width="1.05"/>
<rect x="341.87" y="290.70" width="5.40" height="5.40" fill="none" stroke="#ff0000" stroke-width="1.05"/>
<rect x="348.00" y="290.70" width="5.40" height="5.40" fill="none" stroke="#ff0000" stroke-width="1.05"/>
<rect x="354.13" y="313.90" width="5.40" height="5.40" fill="none" stroke="#ff0000" stroke-width="1.05"/>
<rect x="360.26" y="310.30" width="5.40" height="5.40" fill="none" stroke="#ff0000" stroke-width="1.05"/>
<rect x="366.39" y="291.90" width="5.40" height="5.40" fill="none" stroke="#ff0000" stroke-width="1.05"/>
<rect x="372.52" y="300.50" width="5.40" height="5.40" fill="none" stroke="#ff0000" stroke-width="1.05"/>
<rect x="228.1" y="220.3" width="147.20" height="122.10" fill="none" stroke="#000" stroke-width="1.1"/>
<line x1="228.1" y1="235.50" x2="231.1" y2="235.50" stroke="#000" stroke-width="0.9"/>
<line x1="228.1" y1="250.75" x2="229.9" y2="250.75" stroke="#000" stroke-width="0.9"/>
<line x1="228.1" y1="266.00" x2="231.1" y2="266.00" stroke="#000" stroke-width="0.9"/>
<line x1="228.1" y1="281.25" x2="229.9" y2="281.25" stroke="#000" stroke-width="0.9"/>
<line x1="228.1" y1="296.50" x2="231.1" y2="296.50" stroke="#000" stroke-width="0.9"/>
<line x1="228.1" y1="311.75" x2="229.9" y2="311.75" stroke="#000" stroke-width="0.9"/>
<line x1="228.1" y1="327.00" x2="231.1" y2="327.00" stroke="#000" stroke-width="0.9"/>
<line x1="240.36" y1="342.4" x2="240.36" y2="340.59999999999997" stroke="#000" stroke-width="0.9"/>
<line x1="252.62" y1="342.4" x2="252.62" y2="339.4" stroke="#000" stroke-width="0.9"/>
<line x1="264.88" y1="342.4" x2="264.88" y2="340.59999999999997" stroke="#000" stroke-width="0.9"/>
<line x1="277.14" y1="342.4" x2="277.14" y2="339.4" stroke="#000" stroke-width="0.9"/>
<line x1="289.40" y1="342.4" x2="289.40" y2="340.59999999999997" stroke="#000" stroke-width="0.9"/>
<line x1="301.66" y1="342.4" x2="301.66" y2="339.4" stroke="#000" stroke-width="0.9"/>
<line x1="313.92" y1="342.4" x2="313.92" y2="340.59999999999997" stroke="#000" stroke-width="0.9"/>
<line x1="326.18" y1="342.4" x2="326.18" y2="339.4" stroke="#000" stroke-width="0.9"/>
<line x1="338.44" y1="342.4" x2="338.44" y2="340.59999999999997" stroke="#000" stroke-width="0.9"/>
<line x1="350.70" y1="342.4" x2="350.70" y2="339.4" stroke="#000" stroke-width="0.9"/>
<line x1="362.96" y1="342.4" x2="362.96" y2="340.59999999999997" stroke="#000" stroke-width="0.9"/>
<text x="223.25" y="239.08" font-size="11.20" text-anchor="end" >0.02</text>
<text x="223.25" y="269.58" font-size="11.20" text-anchor="end" >0.01</text>
<text x="223.25" y="300.08" font-size="11.20" text-anchor="end" >0.00</text>
<text x="223.25" y="330.58" font-size="11.20" text-anchor="end" >-0.01</text>
<text x="228.10" y="355.19" font-size="11.50" text-anchor="middle" >4</text>
<text x="252.62" y="355.19" font-size="11.50" text-anchor="middle" >8</text>
<text x="277.14" y="355.19" font-size="11.50" text-anchor="middle" >12</text>
<text x="301.66" y="355.19" font-size="11.50" text-anchor="middle" >16</text>
<text x="326.18" y="355.19" font-size="11.50" text-anchor="middle" >20</text>
<text x="350.70" y="355.19" font-size="11.50" text-anchor="middle" >24</text>
<text x="375.22" y="355.19" font-size="11.50" text-anchor="middle" >28</text>
<text x="300.50" y="367.70" font-size="18.20" text-anchor="middle" font-style="italic">x</text>
<text x="239.30" y="247.40" font-size="21.30" text-anchor="start" >(<tspan stroke="#000" stroke-width="0.6">c</tspan>)</text>
<text x="270.30" y="246.40" font-size="19.70" text-anchor="start" font-style="italic">d</text>
<text x="279.60" y="248.70" font-size="13.50" text-anchor="start" font-style="italic">x</text>
<text x="284.90" y="244.10" font-size="7.50" text-anchor="start" >2</text>
<rect x="289.3" y="243.6" width="2.6" height="1.0" fill="#000"/>
<text x="293.20" y="248.60" font-size="14.50" text-anchor="start" font-style="italic">y</text>
<text x="301.40" y="244.20" font-size="8.20" text-anchor="start" >2</text>
</svg></body></html>
